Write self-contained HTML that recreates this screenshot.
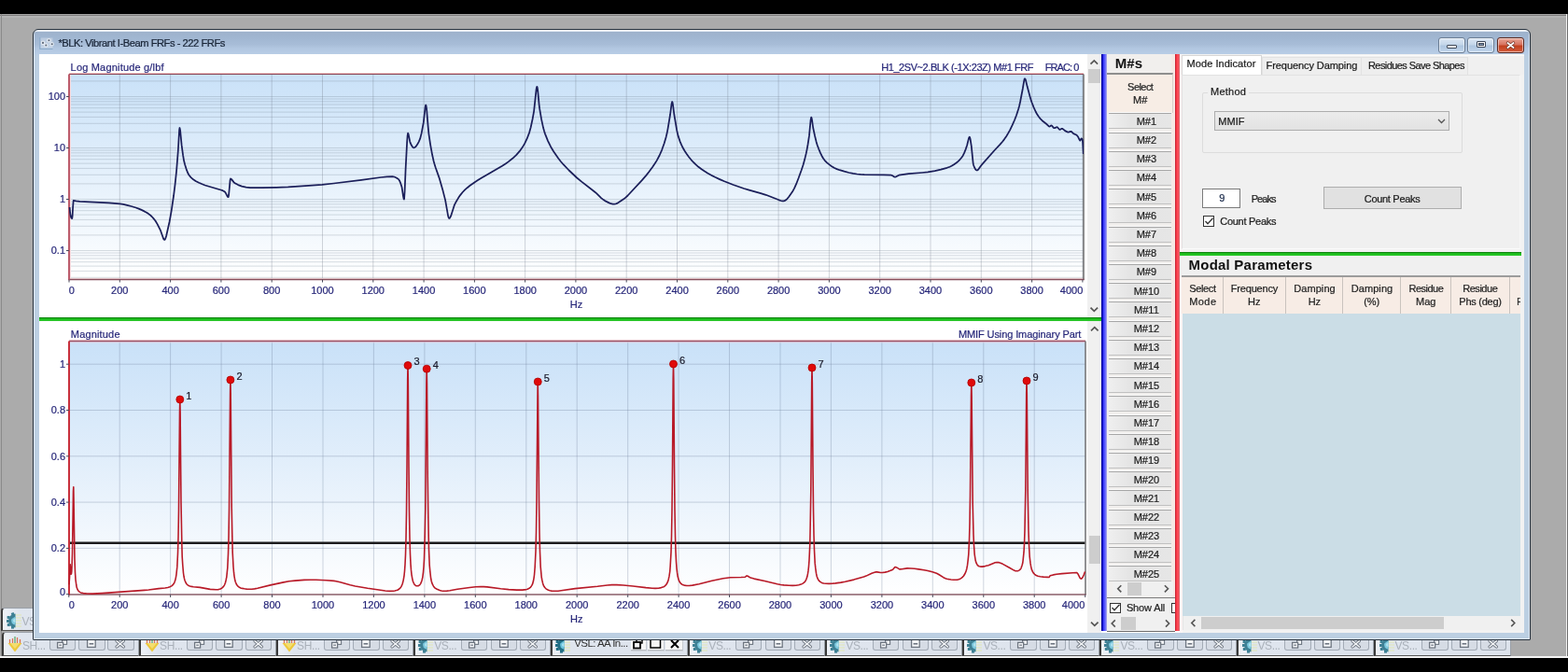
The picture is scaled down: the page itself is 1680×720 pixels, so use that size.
<!DOCTYPE html><html><head><meta charset="utf-8"><title>BLK: Vibrant I-Beam FRFs</title><style>
*{box-sizing:border-box}
html,body{margin:0;padding:0}
body{width:1680px;height:720px;overflow:hidden;position:relative;background:#ababab;font-family:"Liberation Sans", "DejaVu Sans", sans-serif;}
.t{position:absolute;white-space:nowrap;line-height:1;}
.a{position:absolute}
</style></head><body><div style="position:absolute;left:0px;top:0px;width:1680px;height:15px;background:#000"></div><div style="position:absolute;left:0px;top:15px;width:1680px;height:1px;background:#a6a6a6"></div><div style="position:absolute;left:0px;top:16px;width:1680px;height:1px;background:#7e7c7c"></div><div style="position:absolute;left:0px;top:17px;width:1680px;height:2px;background:#b4b4b4"></div><div style="position:absolute;left:1px;top:15px;width:1px;height:689px;background:#8a8a8a"></div><div style="position:absolute;left:1677.5px;top:15px;width:1.2px;height:689px;background:#f2f2f2"></div><div style="position:absolute;left:1678.7px;top:15px;width:1.3px;height:689px;background:#6c6c6c"></div><div style="position:absolute;left:0px;top:703px;width:1680px;height:2px;background:#f4f4f4"></div><div style="position:absolute;left:0px;top:705px;width:1680px;height:15px;background:#000"></div><div class="a" style="left:1px;top:651px;width:147px;height:25px;background:linear-gradient(90deg,#eef2f7,#dfe5ee 12%,#dde3ec);border-left:2px solid #3a3a3a;border-right:1px solid #9aa0a8;border-top:1px solid #9aa0a8;border-radius:4px 4px 0 0;border-bottom:1.3px solid #555"></div><svg class="a" style="left:6.5px;top:656px;opacity:0.85" width="18" height="18" viewBox="0 0 18 18"><g stroke="#e2e8b8" stroke-width="1.3"><line x1="8" y1="3" x2="16" y2="3"/><line x1="8" y1="6" x2="16" y2="6"/><line x1="8" y1="9" x2="16" y2="9"/><line x1="8" y1="12" x2="16" y2="12"/><line x1="8" y1="15" x2="16" y2="15"/></g><path d="M9.5,1.5 L9.5,16.5 A7.5,7.5 0 0 1 9.5,1.5 Z" fill="#216e84"/><g fill="#216e84"><rect x="5.2" y="0.5" width="3" height="3" transform="rotate(-20 6.7 2)"/><rect x="0.6" y="4" width="3" height="3"/><rect x="0" y="8" width="3" height="3"/><rect x="0.8" y="12" width="3" height="3"/><rect x="5" y="14.6" width="3" height="3"/></g><path d="M9.5,4.5 L9.5,13.5 A4.5,4.5 0 0 1 5.4,7.2 Z" fill="#6cc4dc"/><path d="M9.5,6 L9.5,11 A2.5,2.5 0 0 1 7.2,8 Z" fill="#a8e2f0"/></svg><div class="t" style="left:23.5px;top:659.84px;font-size:12px;color:#aab1ba;letter-spacing:-0.4px">VS...</div><div class="a" style="left:52.1px;top:659px;width:28.5px;height:12px;border:1px solid #a3abb6;border-top:none;border-radius:0 0 3px 3px;background:#d6dce5"></div><svg class="a" style="left:52.1px;top:651px" width="29" height="20" viewBox="0 0 29 20"><rect x="13.6" y="9" width="5" height="4.4" fill="#f4f6f8" stroke="#6e7681" stroke-width="1.1"/><rect x="8.6" y="11.4" width="6" height="5.7" fill="#f4f6f8" stroke="#6e7681" stroke-width="1.3"/><line x1="10.2" y1="14.2" x2="13" y2="14.2" stroke="#6e7681" stroke-width="1.2"/></svg><div class="a" style="left:83.8px;top:659px;width:28.5px;height:12px;border:1px solid #a3abb6;border-top:none;border-radius:0 0 3px 3px;background:#d6dce5"></div><svg class="a" style="left:83.8px;top:651px" width="29" height="20" viewBox="0 0 29 20"><rect x="9.6" y="8" width="8.6" height="8.4" fill="#f4f6f8" stroke="#6e7681" stroke-width="1.3"/><line x1="11.6" y1="12.8" x2="16.2" y2="12.8" stroke="#6e7681" stroke-width="1.6"/></svg><div class="a" style="left:114.9px;top:659px;width:28.5px;height:12px;border:1px solid #a3abb6;border-top:none;border-radius:0 0 3px 3px;background:#d6dce5"></div><svg class="a" style="left:114.9px;top:651px" width="29" height="20" viewBox="0 0 29 20"><path d="M10,9.8 L17.4,16 M17.4,9.8 L10,16" stroke="#6e7681" stroke-width="3.2" stroke-linecap="round" fill="none"/><path d="M10,9.8 L17.4,16 M17.4,9.8 L10,16" stroke="#f4f6f8" stroke-width="1.5" stroke-linecap="round" fill="none"/></svg><div class="a" style="left:1.5px;top:677px;width:147px;height:26px;background:linear-gradient(90deg,#eef2f7,#dfe5ee 12%,#dde3ec);border-left:2px solid #3a3a3a;border-right:1px solid #9aa0a8;border-top:1px solid #9aa0a8;border-radius:4px 4px 0 0;border-bottom:1.3px solid #555"></div><svg class="a" style="left:7.5px;top:682px;opacity:0.8" width="16" height="17" viewBox="0 0 16 17"><path d="M0.5,7 L15.5,7 L8,16.5 Z" fill="#f0c010"/><path d="M3,7 L13,7 L8,13 Z" fill="#f8dc50"/><g stroke="#d85a30" stroke-width="1.3"><line x1="2.5" y1="3" x2="2.5" y2="7"/><line x1="5.5" y1="2" x2="5.5" y2="7"/><line x1="10.5" y1="1" x2="10.5" y2="7"/><line x1="13.5" y1="3" x2="13.5" y2="7"/></g><g stroke="#3c9a4a" stroke-width="1.3"><line x1="8" y1="0" x2="8" y2="7"/></g></svg><div class="t" style="left:24.0px;top:685.84px;font-size:12px;color:#aab1ba;letter-spacing:-0.4px">SH...</div><div class="a" style="left:52.6px;top:685px;width:28.5px;height:12px;border:1px solid #a3abb6;border-top:none;border-radius:0 0 3px 3px;background:#d6dce5"></div><svg class="a" style="left:52.6px;top:677px" width="29" height="20" viewBox="0 0 29 20"><rect x="13.6" y="9" width="5" height="4.4" fill="#f4f6f8" stroke="#6e7681" stroke-width="1.1"/><rect x="8.6" y="11.4" width="6" height="5.7" fill="#f4f6f8" stroke="#6e7681" stroke-width="1.3"/><line x1="10.2" y1="14.2" x2="13" y2="14.2" stroke="#6e7681" stroke-width="1.2"/></svg><div class="a" style="left:84.3px;top:685px;width:28.5px;height:12px;border:1px solid #a3abb6;border-top:none;border-radius:0 0 3px 3px;background:#d6dce5"></div><svg class="a" style="left:84.3px;top:677px" width="29" height="20" viewBox="0 0 29 20"><rect x="9.6" y="8" width="8.6" height="8.4" fill="#f4f6f8" stroke="#6e7681" stroke-width="1.3"/><line x1="11.6" y1="12.8" x2="16.2" y2="12.8" stroke="#6e7681" stroke-width="1.6"/></svg><div class="a" style="left:115.4px;top:685px;width:28.5px;height:12px;border:1px solid #a3abb6;border-top:none;border-radius:0 0 3px 3px;background:#d6dce5"></div><svg class="a" style="left:115.4px;top:677px" width="29" height="20" viewBox="0 0 29 20"><path d="M10,9.8 L17.4,16 M17.4,9.8 L10,16" stroke="#6e7681" stroke-width="3.2" stroke-linecap="round" fill="none"/><path d="M10,9.8 L17.4,16 M17.4,9.8 L10,16" stroke="#f4f6f8" stroke-width="1.5" stroke-linecap="round" fill="none"/></svg><div class="a" style="left:148.6px;top:677px;width:147px;height:26px;background:linear-gradient(90deg,#eef2f7,#dfe5ee 12%,#dde3ec);border-left:2px solid #3a3a3a;border-right:1px solid #9aa0a8;border-top:1px solid #9aa0a8;border-radius:4px 4px 0 0;border-bottom:1.3px solid #555"></div><svg class="a" style="left:154.6px;top:682px;opacity:0.8" width="16" height="17" viewBox="0 0 16 17"><path d="M0.5,7 L15.5,7 L8,16.5 Z" fill="#f0c010"/><path d="M3,7 L13,7 L8,13 Z" fill="#f8dc50"/><g stroke="#d85a30" stroke-width="1.3"><line x1="2.5" y1="3" x2="2.5" y2="7"/><line x1="5.5" y1="2" x2="5.5" y2="7"/><line x1="10.5" y1="1" x2="10.5" y2="7"/><line x1="13.5" y1="3" x2="13.5" y2="7"/></g><g stroke="#3c9a4a" stroke-width="1.3"><line x1="8" y1="0" x2="8" y2="7"/></g></svg><div class="t" style="left:171.1px;top:685.84px;font-size:12px;color:#aab1ba;letter-spacing:-0.4px">SH...</div><div class="a" style="left:199.7px;top:685px;width:28.5px;height:12px;border:1px solid #a3abb6;border-top:none;border-radius:0 0 3px 3px;background:#d6dce5"></div><svg class="a" style="left:199.7px;top:677px" width="29" height="20" viewBox="0 0 29 20"><rect x="13.6" y="9" width="5" height="4.4" fill="#f4f6f8" stroke="#6e7681" stroke-width="1.1"/><rect x="8.6" y="11.4" width="6" height="5.7" fill="#f4f6f8" stroke="#6e7681" stroke-width="1.3"/><line x1="10.2" y1="14.2" x2="13" y2="14.2" stroke="#6e7681" stroke-width="1.2"/></svg><div class="a" style="left:231.39999999999998px;top:685px;width:28.5px;height:12px;border:1px solid #a3abb6;border-top:none;border-radius:0 0 3px 3px;background:#d6dce5"></div><svg class="a" style="left:231.39999999999998px;top:677px" width="29" height="20" viewBox="0 0 29 20"><rect x="9.6" y="8" width="8.6" height="8.4" fill="#f4f6f8" stroke="#6e7681" stroke-width="1.3"/><line x1="11.6" y1="12.8" x2="16.2" y2="12.8" stroke="#6e7681" stroke-width="1.6"/></svg><div class="a" style="left:262.5px;top:685px;width:28.5px;height:12px;border:1px solid #a3abb6;border-top:none;border-radius:0 0 3px 3px;background:#d6dce5"></div><svg class="a" style="left:262.5px;top:677px" width="29" height="20" viewBox="0 0 29 20"><path d="M10,9.8 L17.4,16 M17.4,9.8 L10,16" stroke="#6e7681" stroke-width="3.2" stroke-linecap="round" fill="none"/><path d="M10,9.8 L17.4,16 M17.4,9.8 L10,16" stroke="#f4f6f8" stroke-width="1.5" stroke-linecap="round" fill="none"/></svg><div class="a" style="left:295.6px;top:677px;width:147px;height:26px;background:linear-gradient(90deg,#eef2f7,#dfe5ee 12%,#dde3ec);border-left:2px solid #3a3a3a;border-right:1px solid #9aa0a8;border-top:1px solid #9aa0a8;border-radius:4px 4px 0 0;border-bottom:1.3px solid #555"></div><svg class="a" style="left:301.6px;top:682px;opacity:0.8" width="16" height="17" viewBox="0 0 16 17"><path d="M0.5,7 L15.5,7 L8,16.5 Z" fill="#f0c010"/><path d="M3,7 L13,7 L8,13 Z" fill="#f8dc50"/><g stroke="#d85a30" stroke-width="1.3"><line x1="2.5" y1="3" x2="2.5" y2="7"/><line x1="5.5" y1="2" x2="5.5" y2="7"/><line x1="10.5" y1="1" x2="10.5" y2="7"/><line x1="13.5" y1="3" x2="13.5" y2="7"/></g><g stroke="#3c9a4a" stroke-width="1.3"><line x1="8" y1="0" x2="8" y2="7"/></g></svg><div class="t" style="left:318.1px;top:685.84px;font-size:12px;color:#aab1ba;letter-spacing:-0.4px">SH...</div><div class="a" style="left:346.70000000000005px;top:685px;width:28.5px;height:12px;border:1px solid #a3abb6;border-top:none;border-radius:0 0 3px 3px;background:#d6dce5"></div><svg class="a" style="left:346.70000000000005px;top:677px" width="29" height="20" viewBox="0 0 29 20"><rect x="13.6" y="9" width="5" height="4.4" fill="#f4f6f8" stroke="#6e7681" stroke-width="1.1"/><rect x="8.6" y="11.4" width="6" height="5.7" fill="#f4f6f8" stroke="#6e7681" stroke-width="1.3"/><line x1="10.2" y1="14.2" x2="13" y2="14.2" stroke="#6e7681" stroke-width="1.2"/></svg><div class="a" style="left:378.40000000000003px;top:685px;width:28.5px;height:12px;border:1px solid #a3abb6;border-top:none;border-radius:0 0 3px 3px;background:#d6dce5"></div><svg class="a" style="left:378.40000000000003px;top:677px" width="29" height="20" viewBox="0 0 29 20"><rect x="9.6" y="8" width="8.6" height="8.4" fill="#f4f6f8" stroke="#6e7681" stroke-width="1.3"/><line x1="11.6" y1="12.8" x2="16.2" y2="12.8" stroke="#6e7681" stroke-width="1.6"/></svg><div class="a" style="left:409.5px;top:685px;width:28.5px;height:12px;border:1px solid #a3abb6;border-top:none;border-radius:0 0 3px 3px;background:#d6dce5"></div><svg class="a" style="left:409.5px;top:677px" width="29" height="20" viewBox="0 0 29 20"><path d="M10,9.8 L17.4,16 M17.4,9.8 L10,16" stroke="#6e7681" stroke-width="3.2" stroke-linecap="round" fill="none"/><path d="M10,9.8 L17.4,16 M17.4,9.8 L10,16" stroke="#f4f6f8" stroke-width="1.5" stroke-linecap="round" fill="none"/></svg><div class="a" style="left:442.7px;top:677px;width:147px;height:26px;background:linear-gradient(90deg,#eef2f7,#dfe5ee 12%,#dde3ec);border-left:2px solid #3a3a3a;border-right:1px solid #9aa0a8;border-top:1px solid #9aa0a8;border-radius:4px 4px 0 0;border-bottom:1.3px solid #555"></div><svg class="a" style="left:448.2px;top:682px;opacity:0.85" width="18" height="18" viewBox="0 0 18 18"><g stroke="#e2e8b8" stroke-width="1.3"><line x1="8" y1="3" x2="16" y2="3"/><line x1="8" y1="6" x2="16" y2="6"/><line x1="8" y1="9" x2="16" y2="9"/><line x1="8" y1="12" x2="16" y2="12"/><line x1="8" y1="15" x2="16" y2="15"/></g><path d="M9.5,1.5 L9.5,16.5 A7.5,7.5 0 0 1 9.5,1.5 Z" fill="#216e84"/><g fill="#216e84"><rect x="5.2" y="0.5" width="3" height="3" transform="rotate(-20 6.7 2)"/><rect x="0.6" y="4" width="3" height="3"/><rect x="0" y="8" width="3" height="3"/><rect x="0.8" y="12" width="3" height="3"/><rect x="5" y="14.6" width="3" height="3"/></g><path d="M9.5,4.5 L9.5,13.5 A4.5,4.5 0 0 1 5.4,7.2 Z" fill="#6cc4dc"/><path d="M9.5,6 L9.5,11 A2.5,2.5 0 0 1 7.2,8 Z" fill="#a8e2f0"/></svg><div class="t" style="left:465.2px;top:685.84px;font-size:12px;color:#aab1ba;letter-spacing:-0.4px">VS...</div><div class="a" style="left:493.8px;top:685px;width:28.5px;height:12px;border:1px solid #a3abb6;border-top:none;border-radius:0 0 3px 3px;background:#d6dce5"></div><svg class="a" style="left:493.8px;top:677px" width="29" height="20" viewBox="0 0 29 20"><rect x="13.6" y="9" width="5" height="4.4" fill="#f4f6f8" stroke="#6e7681" stroke-width="1.1"/><rect x="8.6" y="11.4" width="6" height="5.7" fill="#f4f6f8" stroke="#6e7681" stroke-width="1.3"/><line x1="10.2" y1="14.2" x2="13" y2="14.2" stroke="#6e7681" stroke-width="1.2"/></svg><div class="a" style="left:525.5px;top:685px;width:28.5px;height:12px;border:1px solid #a3abb6;border-top:none;border-radius:0 0 3px 3px;background:#d6dce5"></div><svg class="a" style="left:525.5px;top:677px" width="29" height="20" viewBox="0 0 29 20"><rect x="9.6" y="8" width="8.6" height="8.4" fill="#f4f6f8" stroke="#6e7681" stroke-width="1.3"/><line x1="11.6" y1="12.8" x2="16.2" y2="12.8" stroke="#6e7681" stroke-width="1.6"/></svg><div class="a" style="left:556.6px;top:685px;width:28.5px;height:12px;border:1px solid #a3abb6;border-top:none;border-radius:0 0 3px 3px;background:#d6dce5"></div><svg class="a" style="left:556.6px;top:677px" width="29" height="20" viewBox="0 0 29 20"><path d="M10,9.8 L17.4,16 M17.4,9.8 L10,16" stroke="#6e7681" stroke-width="3.2" stroke-linecap="round" fill="none"/><path d="M10,9.8 L17.4,16 M17.4,9.8 L10,16" stroke="#f4f6f8" stroke-width="1.5" stroke-linecap="round" fill="none"/></svg><div class="a" style="left:589.7px;top:677px;width:147px;height:26px;background:linear-gradient(90deg,#eef2f7,#dfe5ee 12%,#dde3ec);border-left:2px solid #3a3a3a;border-right:1px solid #9aa0a8;border-top:1px solid #9aa0a8;border-radius:4px 4px 0 0;border-bottom:1.3px solid #555"></div><svg class="a" style="left:595.2px;top:682px;opacity:1" width="18" height="18" viewBox="0 0 18 18"><g stroke="#e2e8b8" stroke-width="1.3"><line x1="8" y1="3" x2="16" y2="3"/><line x1="8" y1="6" x2="16" y2="6"/><line x1="8" y1="9" x2="16" y2="9"/><line x1="8" y1="12" x2="16" y2="12"/><line x1="8" y1="15" x2="16" y2="15"/></g><path d="M9.5,1.5 L9.5,16.5 A7.5,7.5 0 0 1 9.5,1.5 Z" fill="#216e84"/><g fill="#216e84"><rect x="5.2" y="0.5" width="3" height="3" transform="rotate(-20 6.7 2)"/><rect x="0.6" y="4" width="3" height="3"/><rect x="0" y="8" width="3" height="3"/><rect x="0.8" y="12" width="3" height="3"/><rect x="5" y="14.6" width="3" height="3"/></g><path d="M9.5,4.5 L9.5,13.5 A4.5,4.5 0 0 1 5.4,7.2 Z" fill="#6cc4dc"/><path d="M9.5,6 L9.5,11 A2.5,2.5 0 0 1 7.2,8 Z" fill="#a8e2f0"/></svg><div class="t" style="left:615.2px;top:683.77px;font-size:11.5px;color:#333;letter-spacing:-0.55px">VSL: AA In...</div><div class="a" style="left:675.7px;top:684px;width:17.5px;height:13px;background:#f6f6f6;border-bottom:1px solid #b8bcc2;border-right:1px solid #c8ccd2;box-shadow:0 1px 0 #d0d4da"></div><div class="a" style="left:694.4000000000001px;top:684px;width:17.7px;height:13px;background:#f6f6f6;border-bottom:1px solid #b8bcc2;border-right:1px solid #c8ccd2;box-shadow:0 1px 0 #d0d4da"></div><div class="a" style="left:713.4000000000001px;top:684px;width:19px;height:13px;background:#f6f6f6;border-bottom:1px solid #b8bcc2;border-right:1px solid #c8ccd2;box-shadow:0 1px 0 #d0d4da"></div><svg class="a" style="left:678.2px;top:683px" width="45" height="13" viewBox="0 0 45 13"><rect x="4" y="2" width="6" height="4" fill="none" stroke="#000" stroke-width="1.4"/><rect x="1" y="5" width="7" height="6.5" fill="#f6f6f6" stroke="#000" stroke-width="1.8"/><rect x="19" y="0.5" width="10.5" height="10.5" fill="none" stroke="#000" stroke-width="1.5"/></svg><svg class="a" style="left:718.2px;top:684px" width="12" height="12" viewBox="0 0 12 12"><path d="M1,2 L9,10 M9,2 L1,10" stroke="#000" stroke-width="2" fill="none"/></svg><div class="a" style="left:736.8px;top:677px;width:147px;height:26px;background:linear-gradient(90deg,#eef2f7,#dfe5ee 12%,#dde3ec);border-left:2px solid #3a3a3a;border-right:1px solid #9aa0a8;border-top:1px solid #9aa0a8;border-radius:4px 4px 0 0;border-bottom:1.3px solid #555"></div><svg class="a" style="left:742.3px;top:682px;opacity:0.85" width="18" height="18" viewBox="0 0 18 18"><g stroke="#e2e8b8" stroke-width="1.3"><line x1="8" y1="3" x2="16" y2="3"/><line x1="8" y1="6" x2="16" y2="6"/><line x1="8" y1="9" x2="16" y2="9"/><line x1="8" y1="12" x2="16" y2="12"/><line x1="8" y1="15" x2="16" y2="15"/></g><path d="M9.5,1.5 L9.5,16.5 A7.5,7.5 0 0 1 9.5,1.5 Z" fill="#216e84"/><g fill="#216e84"><rect x="5.2" y="0.5" width="3" height="3" transform="rotate(-20 6.7 2)"/><rect x="0.6" y="4" width="3" height="3"/><rect x="0" y="8" width="3" height="3"/><rect x="0.8" y="12" width="3" height="3"/><rect x="5" y="14.6" width="3" height="3"/></g><path d="M9.5,4.5 L9.5,13.5 A4.5,4.5 0 0 1 5.4,7.2 Z" fill="#6cc4dc"/><path d="M9.5,6 L9.5,11 A2.5,2.5 0 0 1 7.2,8 Z" fill="#a8e2f0"/></svg><div class="t" style="left:759.3px;top:685.84px;font-size:12px;color:#aab1ba;letter-spacing:-0.4px">VS...</div><div class="a" style="left:787.9px;top:685px;width:28.5px;height:12px;border:1px solid #a3abb6;border-top:none;border-radius:0 0 3px 3px;background:#d6dce5"></div><svg class="a" style="left:787.9px;top:677px" width="29" height="20" viewBox="0 0 29 20"><rect x="13.6" y="9" width="5" height="4.4" fill="#f4f6f8" stroke="#6e7681" stroke-width="1.1"/><rect x="8.6" y="11.4" width="6" height="5.7" fill="#f4f6f8" stroke="#6e7681" stroke-width="1.3"/><line x1="10.2" y1="14.2" x2="13" y2="14.2" stroke="#6e7681" stroke-width="1.2"/></svg><div class="a" style="left:819.5999999999999px;top:685px;width:28.5px;height:12px;border:1px solid #a3abb6;border-top:none;border-radius:0 0 3px 3px;background:#d6dce5"></div><svg class="a" style="left:819.5999999999999px;top:677px" width="29" height="20" viewBox="0 0 29 20"><rect x="9.6" y="8" width="8.6" height="8.4" fill="#f4f6f8" stroke="#6e7681" stroke-width="1.3"/><line x1="11.6" y1="12.8" x2="16.2" y2="12.8" stroke="#6e7681" stroke-width="1.6"/></svg><div class="a" style="left:850.6999999999999px;top:685px;width:28.5px;height:12px;border:1px solid #a3abb6;border-top:none;border-radius:0 0 3px 3px;background:#d6dce5"></div><svg class="a" style="left:850.6999999999999px;top:677px" width="29" height="20" viewBox="0 0 29 20"><path d="M10,9.8 L17.4,16 M17.4,9.8 L10,16" stroke="#6e7681" stroke-width="3.2" stroke-linecap="round" fill="none"/><path d="M10,9.8 L17.4,16 M17.4,9.8 L10,16" stroke="#f4f6f8" stroke-width="1.5" stroke-linecap="round" fill="none"/></svg><div class="a" style="left:883.8px;top:677px;width:147px;height:26px;background:linear-gradient(90deg,#eef2f7,#dfe5ee 12%,#dde3ec);border-left:2px solid #3a3a3a;border-right:1px solid #9aa0a8;border-top:1px solid #9aa0a8;border-radius:4px 4px 0 0;border-bottom:1.3px solid #555"></div><svg class="a" style="left:889.3px;top:682px;opacity:0.85" width="18" height="18" viewBox="0 0 18 18"><g stroke="#e2e8b8" stroke-width="1.3"><line x1="8" y1="3" x2="16" y2="3"/><line x1="8" y1="6" x2="16" y2="6"/><line x1="8" y1="9" x2="16" y2="9"/><line x1="8" y1="12" x2="16" y2="12"/><line x1="8" y1="15" x2="16" y2="15"/></g><path d="M9.5,1.5 L9.5,16.5 A7.5,7.5 0 0 1 9.5,1.5 Z" fill="#216e84"/><g fill="#216e84"><rect x="5.2" y="0.5" width="3" height="3" transform="rotate(-20 6.7 2)"/><rect x="0.6" y="4" width="3" height="3"/><rect x="0" y="8" width="3" height="3"/><rect x="0.8" y="12" width="3" height="3"/><rect x="5" y="14.6" width="3" height="3"/></g><path d="M9.5,4.5 L9.5,13.5 A4.5,4.5 0 0 1 5.4,7.2 Z" fill="#6cc4dc"/><path d="M9.5,6 L9.5,11 A2.5,2.5 0 0 1 7.2,8 Z" fill="#a8e2f0"/></svg><div class="t" style="left:906.3px;top:685.84px;font-size:12px;color:#aab1ba;letter-spacing:-0.4px">VS...</div><div class="a" style="left:934.9px;top:685px;width:28.5px;height:12px;border:1px solid #a3abb6;border-top:none;border-radius:0 0 3px 3px;background:#d6dce5"></div><svg class="a" style="left:934.9px;top:677px" width="29" height="20" viewBox="0 0 29 20"><rect x="13.6" y="9" width="5" height="4.4" fill="#f4f6f8" stroke="#6e7681" stroke-width="1.1"/><rect x="8.6" y="11.4" width="6" height="5.7" fill="#f4f6f8" stroke="#6e7681" stroke-width="1.3"/><line x1="10.2" y1="14.2" x2="13" y2="14.2" stroke="#6e7681" stroke-width="1.2"/></svg><div class="a" style="left:966.5999999999999px;top:685px;width:28.5px;height:12px;border:1px solid #a3abb6;border-top:none;border-radius:0 0 3px 3px;background:#d6dce5"></div><svg class="a" style="left:966.5999999999999px;top:677px" width="29" height="20" viewBox="0 0 29 20"><rect x="9.6" y="8" width="8.6" height="8.4" fill="#f4f6f8" stroke="#6e7681" stroke-width="1.3"/><line x1="11.6" y1="12.8" x2="16.2" y2="12.8" stroke="#6e7681" stroke-width="1.6"/></svg><div class="a" style="left:997.6999999999999px;top:685px;width:28.5px;height:12px;border:1px solid #a3abb6;border-top:none;border-radius:0 0 3px 3px;background:#d6dce5"></div><svg class="a" style="left:997.6999999999999px;top:677px" width="29" height="20" viewBox="0 0 29 20"><path d="M10,9.8 L17.4,16 M17.4,9.8 L10,16" stroke="#6e7681" stroke-width="3.2" stroke-linecap="round" fill="none"/><path d="M10,9.8 L17.4,16 M17.4,9.8 L10,16" stroke="#f4f6f8" stroke-width="1.5" stroke-linecap="round" fill="none"/></svg><div class="a" style="left:1030.9px;top:677px;width:147px;height:26px;background:linear-gradient(90deg,#eef2f7,#dfe5ee 12%,#dde3ec);border-left:2px solid #3a3a3a;border-right:1px solid #9aa0a8;border-top:1px solid #9aa0a8;border-radius:4px 4px 0 0;border-bottom:1.3px solid #555"></div><svg class="a" style="left:1036.4px;top:682px;opacity:0.85" width="18" height="18" viewBox="0 0 18 18"><g stroke="#e2e8b8" stroke-width="1.3"><line x1="8" y1="3" x2="16" y2="3"/><line x1="8" y1="6" x2="16" y2="6"/><line x1="8" y1="9" x2="16" y2="9"/><line x1="8" y1="12" x2="16" y2="12"/><line x1="8" y1="15" x2="16" y2="15"/></g><path d="M9.5,1.5 L9.5,16.5 A7.5,7.5 0 0 1 9.5,1.5 Z" fill="#216e84"/><g fill="#216e84"><rect x="5.2" y="0.5" width="3" height="3" transform="rotate(-20 6.7 2)"/><rect x="0.6" y="4" width="3" height="3"/><rect x="0" y="8" width="3" height="3"/><rect x="0.8" y="12" width="3" height="3"/><rect x="5" y="14.6" width="3" height="3"/></g><path d="M9.5,4.5 L9.5,13.5 A4.5,4.5 0 0 1 5.4,7.2 Z" fill="#6cc4dc"/><path d="M9.5,6 L9.5,11 A2.5,2.5 0 0 1 7.2,8 Z" fill="#a8e2f0"/></svg><div class="t" style="left:1053.4px;top:685.84px;font-size:12px;color:#aab1ba;letter-spacing:-0.4px">VS...</div><div class="a" style="left:1082.0px;top:685px;width:28.5px;height:12px;border:1px solid #a3abb6;border-top:none;border-radius:0 0 3px 3px;background:#d6dce5"></div><svg class="a" style="left:1082.0px;top:677px" width="29" height="20" viewBox="0 0 29 20"><rect x="13.6" y="9" width="5" height="4.4" fill="#f4f6f8" stroke="#6e7681" stroke-width="1.1"/><rect x="8.6" y="11.4" width="6" height="5.7" fill="#f4f6f8" stroke="#6e7681" stroke-width="1.3"/><line x1="10.2" y1="14.2" x2="13" y2="14.2" stroke="#6e7681" stroke-width="1.2"/></svg><div class="a" style="left:1113.7px;top:685px;width:28.5px;height:12px;border:1px solid #a3abb6;border-top:none;border-radius:0 0 3px 3px;background:#d6dce5"></div><svg class="a" style="left:1113.7px;top:677px" width="29" height="20" viewBox="0 0 29 20"><rect x="9.6" y="8" width="8.6" height="8.4" fill="#f4f6f8" stroke="#6e7681" stroke-width="1.3"/><line x1="11.6" y1="12.8" x2="16.2" y2="12.8" stroke="#6e7681" stroke-width="1.6"/></svg><div class="a" style="left:1144.8000000000002px;top:685px;width:28.5px;height:12px;border:1px solid #a3abb6;border-top:none;border-radius:0 0 3px 3px;background:#d6dce5"></div><svg class="a" style="left:1144.8000000000002px;top:677px" width="29" height="20" viewBox="0 0 29 20"><path d="M10,9.8 L17.4,16 M17.4,9.8 L10,16" stroke="#6e7681" stroke-width="3.2" stroke-linecap="round" fill="none"/><path d="M10,9.8 L17.4,16 M17.4,9.8 L10,16" stroke="#f4f6f8" stroke-width="1.5" stroke-linecap="round" fill="none"/></svg><div class="a" style="left:1177.9px;top:677px;width:147px;height:26px;background:linear-gradient(90deg,#eef2f7,#dfe5ee 12%,#dde3ec);border-left:2px solid #3a3a3a;border-right:1px solid #9aa0a8;border-top:1px solid #9aa0a8;border-radius:4px 4px 0 0;border-bottom:1.3px solid #555"></div><svg class="a" style="left:1183.4px;top:682px;opacity:0.85" width="18" height="18" viewBox="0 0 18 18"><g stroke="#e2e8b8" stroke-width="1.3"><line x1="8" y1="3" x2="16" y2="3"/><line x1="8" y1="6" x2="16" y2="6"/><line x1="8" y1="9" x2="16" y2="9"/><line x1="8" y1="12" x2="16" y2="12"/><line x1="8" y1="15" x2="16" y2="15"/></g><path d="M9.5,1.5 L9.5,16.5 A7.5,7.5 0 0 1 9.5,1.5 Z" fill="#216e84"/><g fill="#216e84"><rect x="5.2" y="0.5" width="3" height="3" transform="rotate(-20 6.7 2)"/><rect x="0.6" y="4" width="3" height="3"/><rect x="0" y="8" width="3" height="3"/><rect x="0.8" y="12" width="3" height="3"/><rect x="5" y="14.6" width="3" height="3"/></g><path d="M9.5,4.5 L9.5,13.5 A4.5,4.5 0 0 1 5.4,7.2 Z" fill="#6cc4dc"/><path d="M9.5,6 L9.5,11 A2.5,2.5 0 0 1 7.2,8 Z" fill="#a8e2f0"/></svg><div class="t" style="left:1200.4px;top:685.84px;font-size:12px;color:#aab1ba;letter-spacing:-0.4px">VS...</div><div class="a" style="left:1229.0px;top:685px;width:28.5px;height:12px;border:1px solid #a3abb6;border-top:none;border-radius:0 0 3px 3px;background:#d6dce5"></div><svg class="a" style="left:1229.0px;top:677px" width="29" height="20" viewBox="0 0 29 20"><rect x="13.6" y="9" width="5" height="4.4" fill="#f4f6f8" stroke="#6e7681" stroke-width="1.1"/><rect x="8.6" y="11.4" width="6" height="5.7" fill="#f4f6f8" stroke="#6e7681" stroke-width="1.3"/><line x1="10.2" y1="14.2" x2="13" y2="14.2" stroke="#6e7681" stroke-width="1.2"/></svg><div class="a" style="left:1260.7px;top:685px;width:28.5px;height:12px;border:1px solid #a3abb6;border-top:none;border-radius:0 0 3px 3px;background:#d6dce5"></div><svg class="a" style="left:1260.7px;top:677px" width="29" height="20" viewBox="0 0 29 20"><rect x="9.6" y="8" width="8.6" height="8.4" fill="#f4f6f8" stroke="#6e7681" stroke-width="1.3"/><line x1="11.6" y1="12.8" x2="16.2" y2="12.8" stroke="#6e7681" stroke-width="1.6"/></svg><div class="a" style="left:1291.8000000000002px;top:685px;width:28.5px;height:12px;border:1px solid #a3abb6;border-top:none;border-radius:0 0 3px 3px;background:#d6dce5"></div><svg class="a" style="left:1291.8000000000002px;top:677px" width="29" height="20" viewBox="0 0 29 20"><path d="M10,9.8 L17.4,16 M17.4,9.8 L10,16" stroke="#6e7681" stroke-width="3.2" stroke-linecap="round" fill="none"/><path d="M10,9.8 L17.4,16 M17.4,9.8 L10,16" stroke="#f4f6f8" stroke-width="1.5" stroke-linecap="round" fill="none"/></svg><div class="a" style="left:1325.0px;top:677px;width:147px;height:26px;background:linear-gradient(90deg,#eef2f7,#dfe5ee 12%,#dde3ec);border-left:2px solid #3a3a3a;border-right:1px solid #9aa0a8;border-top:1px solid #9aa0a8;border-radius:4px 4px 0 0;border-bottom:1.3px solid #555"></div><svg class="a" style="left:1330.5px;top:682px;opacity:0.85" width="18" height="18" viewBox="0 0 18 18"><g stroke="#e2e8b8" stroke-width="1.3"><line x1="8" y1="3" x2="16" y2="3"/><line x1="8" y1="6" x2="16" y2="6"/><line x1="8" y1="9" x2="16" y2="9"/><line x1="8" y1="12" x2="16" y2="12"/><line x1="8" y1="15" x2="16" y2="15"/></g><path d="M9.5,1.5 L9.5,16.5 A7.5,7.5 0 0 1 9.5,1.5 Z" fill="#216e84"/><g fill="#216e84"><rect x="5.2" y="0.5" width="3" height="3" transform="rotate(-20 6.7 2)"/><rect x="0.6" y="4" width="3" height="3"/><rect x="0" y="8" width="3" height="3"/><rect x="0.8" y="12" width="3" height="3"/><rect x="5" y="14.6" width="3" height="3"/></g><path d="M9.5,4.5 L9.5,13.5 A4.5,4.5 0 0 1 5.4,7.2 Z" fill="#6cc4dc"/><path d="M9.5,6 L9.5,11 A2.5,2.5 0 0 1 7.2,8 Z" fill="#a8e2f0"/></svg><div class="t" style="left:1347.5px;top:685.84px;font-size:12px;color:#aab1ba;letter-spacing:-0.4px">VS...</div><div class="a" style="left:1376.1px;top:685px;width:28.5px;height:12px;border:1px solid #a3abb6;border-top:none;border-radius:0 0 3px 3px;background:#d6dce5"></div><svg class="a" style="left:1376.1px;top:677px" width="29" height="20" viewBox="0 0 29 20"><rect x="13.6" y="9" width="5" height="4.4" fill="#f4f6f8" stroke="#6e7681" stroke-width="1.1"/><rect x="8.6" y="11.4" width="6" height="5.7" fill="#f4f6f8" stroke="#6e7681" stroke-width="1.3"/><line x1="10.2" y1="14.2" x2="13" y2="14.2" stroke="#6e7681" stroke-width="1.2"/></svg><div class="a" style="left:1407.8px;top:685px;width:28.5px;height:12px;border:1px solid #a3abb6;border-top:none;border-radius:0 0 3px 3px;background:#d6dce5"></div><svg class="a" style="left:1407.8px;top:677px" width="29" height="20" viewBox="0 0 29 20"><rect x="9.6" y="8" width="8.6" height="8.4" fill="#f4f6f8" stroke="#6e7681" stroke-width="1.3"/><line x1="11.6" y1="12.8" x2="16.2" y2="12.8" stroke="#6e7681" stroke-width="1.6"/></svg><div class="a" style="left:1438.9px;top:685px;width:28.5px;height:12px;border:1px solid #a3abb6;border-top:none;border-radius:0 0 3px 3px;background:#d6dce5"></div><svg class="a" style="left:1438.9px;top:677px" width="29" height="20" viewBox="0 0 29 20"><path d="M10,9.8 L17.4,16 M17.4,9.8 L10,16" stroke="#6e7681" stroke-width="3.2" stroke-linecap="round" fill="none"/><path d="M10,9.8 L17.4,16 M17.4,9.8 L10,16" stroke="#f4f6f8" stroke-width="1.5" stroke-linecap="round" fill="none"/></svg><div class="a" style="left:1472.0px;top:677px;width:147px;height:26px;background:linear-gradient(90deg,#eef2f7,#dfe5ee 12%,#dde3ec);border-left:2px solid #3a3a3a;border-right:1px solid #9aa0a8;border-top:1px solid #9aa0a8;border-radius:4px 4px 0 0;border-bottom:1.3px solid #555"></div><svg class="a" style="left:1477.5px;top:682px;opacity:0.85" width="18" height="18" viewBox="0 0 18 18"><g stroke="#e2e8b8" stroke-width="1.3"><line x1="8" y1="3" x2="16" y2="3"/><line x1="8" y1="6" x2="16" y2="6"/><line x1="8" y1="9" x2="16" y2="9"/><line x1="8" y1="12" x2="16" y2="12"/><line x1="8" y1="15" x2="16" y2="15"/></g><path d="M9.5,1.5 L9.5,16.5 A7.5,7.5 0 0 1 9.5,1.5 Z" fill="#216e84"/><g fill="#216e84"><rect x="5.2" y="0.5" width="3" height="3" transform="rotate(-20 6.7 2)"/><rect x="0.6" y="4" width="3" height="3"/><rect x="0" y="8" width="3" height="3"/><rect x="0.8" y="12" width="3" height="3"/><rect x="5" y="14.6" width="3" height="3"/></g><path d="M9.5,4.5 L9.5,13.5 A4.5,4.5 0 0 1 5.4,7.2 Z" fill="#6cc4dc"/><path d="M9.5,6 L9.5,11 A2.5,2.5 0 0 1 7.2,8 Z" fill="#a8e2f0"/></svg><div class="t" style="left:1494.5px;top:685.84px;font-size:12px;color:#aab1ba;letter-spacing:-0.4px">VS...</div><div class="a" style="left:1523.1px;top:685px;width:28.5px;height:12px;border:1px solid #a3abb6;border-top:none;border-radius:0 0 3px 3px;background:#d6dce5"></div><svg class="a" style="left:1523.1px;top:677px" width="29" height="20" viewBox="0 0 29 20"><rect x="13.6" y="9" width="5" height="4.4" fill="#f4f6f8" stroke="#6e7681" stroke-width="1.1"/><rect x="8.6" y="11.4" width="6" height="5.7" fill="#f4f6f8" stroke="#6e7681" stroke-width="1.3"/><line x1="10.2" y1="14.2" x2="13" y2="14.2" stroke="#6e7681" stroke-width="1.2"/></svg><div class="a" style="left:1554.8px;top:685px;width:28.5px;height:12px;border:1px solid #a3abb6;border-top:none;border-radius:0 0 3px 3px;background:#d6dce5"></div><svg class="a" style="left:1554.8px;top:677px" width="29" height="20" viewBox="0 0 29 20"><rect x="9.6" y="8" width="8.6" height="8.4" fill="#f4f6f8" stroke="#6e7681" stroke-width="1.3"/><line x1="11.6" y1="12.8" x2="16.2" y2="12.8" stroke="#6e7681" stroke-width="1.6"/></svg><div class="a" style="left:1585.9px;top:685px;width:28.5px;height:12px;border:1px solid #a3abb6;border-top:none;border-radius:0 0 3px 3px;background:#d6dce5"></div><svg class="a" style="left:1585.9px;top:677px" width="29" height="20" viewBox="0 0 29 20"><path d="M10,9.8 L17.4,16 M17.4,9.8 L10,16" stroke="#6e7681" stroke-width="3.2" stroke-linecap="round" fill="none"/><path d="M10,9.8 L17.4,16 M17.4,9.8 L10,16" stroke="#f4f6f8" stroke-width="1.5" stroke-linecap="round" fill="none"/></svg><div class="a" style="left:35px;top:31px;width:1605px;height:655px;border:1px solid #27323e;border-radius:6px 6px 1px 1px;background:linear-gradient(#e6eef8 0px,#e6eef8 1.5px,#9eb2cc 2.5px,#a1b7d2 9px,#a8bdd8 16px,#b2c7e1 20px,#b8cde6 26px,#bccfe2 28px,#bccfe2 100%);box-shadow:inset 0 0 0 1px rgba(255,255,255,0.55)"></div><svg class="a" style="left:40px;top:38px" width="20" height="17" viewBox="40 38 20 17"><rect x="43" y="40.5" width="13.5" height="11.5" fill="rgba(255,255,255,0.28)"/><path d="M42.8,40 L42.8,52.3 L56.5,52.3" fill="none" stroke="#8eaccb" stroke-width="1.2"/><g fill="rgba(255,255,255,0.55)"><circle cx="46" cy="45.9" r="2.3"/><circle cx="49.3" cy="48.5" r="2.3"/><circle cx="52.4" cy="43.2" r="2.3"/><circle cx="55.7" cy="47.3" r="2.3"/></g><g fill="#5e6878"><circle cx="46" cy="45.9" r="1.05"/><circle cx="49.3" cy="48.5" r="1.05"/><circle cx="52.4" cy="43.2" r="1.05"/><circle cx="55.7" cy="47.3" r="1.05"/></g></svg><div class="a" style="left:1541px;top:40px;width:29px;height:17px;border:1px solid #6b7d94;border-radius:3px;background:linear-gradient(#dde8f4 0%,#c4d6ea 45%,#aec6e0 55%,#c2d6ec 100%);box-shadow:inset 0 0 0 1px rgba(255,255,255,0.5)"></div><div class="a" style="left:1550px;top:47.5px;width:11px;height:4.5px;background:#fff;border:1px solid #3e4858;border-radius:1px"></div><div class="a" style="left:1572px;top:40px;width:29px;height:17px;border:1px solid #6b7d94;border-radius:3px;background:linear-gradient(#dde8f4 0%,#c4d6ea 45%,#aec6e0 55%,#c2d6ec 100%);box-shadow:inset 0 0 0 1px rgba(255,255,255,0.5)"></div><div class="a" style="left:1581.5px;top:44.2px;width:10.5px;height:7.3px;border:1px solid #3e4858;background:#fff;border-radius:1px"></div><div class="a" style="left:1584px;top:46.4px;width:5.5px;height:3px;border:1px solid #3e4858;background:#7d93ae"></div><div class="a" style="left:1604px;top:40px;width:29px;height:17px;border:1px solid #5b2a22;border-radius:3px;background:linear-gradient(#e9a99a 0%,#d7725f 45%,#c2401f 55%,#d55d3d 100%);box-shadow:inset 0 0 0 1px rgba(255,255,255,0.5)"></div><svg class="a" style="left:1612px;top:43px" width="13" height="11" viewBox="0 0 13 11"><path d="M3.4,3 L9.6,8 M9.6,3 L3.4,8" stroke="#6a2a1e" stroke-width="3.2" stroke-linecap="round"/><path d="M3.4,3 L9.6,8 M9.6,3 L3.4,8" stroke="#fff" stroke-width="1.9" stroke-linecap="round"/></svg><div style="position:absolute;left:42px;top:58px;width:1591px;height:620px;background:#fff"></div><svg class="a" style="left:0;top:0" width="1680" height="720" viewBox="0 0 1680 720" font-family="Liberation Sans, DejaVu Sans, sans-serif"><defs><linearGradient id="pg" x1="0" y1="0" x2="0" y2="1"><stop offset="0" stop-color="#c9e1f8"/><stop offset="0.45" stop-color="#e2effb"/><stop offset="1" stop-color="#ffffff"/></linearGradient><linearGradient id="pg2" x1="0" y1="0" x2="0" y2="1"><stop offset="0" stop-color="#c9e1f8"/><stop offset="0.5" stop-color="#e3effb"/><stop offset="1" stop-color="#ffffff"/></linearGradient><clipPath id="c1"><rect x="73" y="79.5" width="1088" height="220"/></clipPath><clipPath id="c2"><rect x="73" y="365.5" width="1090" height="272"/></clipPath></defs><rect x="74" y="79.5" width="1087" height="220.0" fill="url(#pg)"/><path d="M74,297.3H1161M74,290.4H1161M74,285.1H1161M74,280.7H1161M74,277.0H1161M74,273.8H1161M74,271.0H1161M74,268.5H1161M74,251.9H1161M74,242.3H1161M74,235.4H1161M74,230.1H1161M74,225.7H1161M74,222.0H1161M74,218.8H1161M74,216.0H1161M74,213.5H1161M74,196.9H1161M74,187.3H1161M74,180.4H1161M74,175.1H1161M74,170.7H1161M74,167.0H1161M74,163.8H1161M74,161.0H1161M74,158.5H1161M74,141.9H1161M74,132.3H1161M74,125.4H1161M74,120.1H1161M74,115.7H1161M74,112.0H1161M74,108.8H1161M74,106.0H1161M74,103.5H1161M74,86.9H1161" stroke="rgba(110,122,140,0.26)" stroke-width="1" fill="none"/><path d="M128.3,79.5V299.5M182.6,79.5V299.5M236.9,79.5V299.5M291.2,79.5V299.5M345.5,79.5V299.5M399.8,79.5V299.5M454.1,79.5V299.5M508.4,79.5V299.5M562.6,79.5V299.5M616.9,79.5V299.5M671.2,79.5V299.5M725.5,79.5V299.5M779.8,79.5V299.5M834.1,79.5V299.5M888.4,79.5V299.5M942.7,79.5V299.5M997.0,79.5V299.5M1051.3,79.5V299.5M1105.6,79.5V299.5M1159.9,79.5V299.5" stroke="rgba(95,102,118,0.27)" stroke-width="1" fill="none"/><line x1="74" y1="78.5" x2="1161" y2="78.5" stroke="#f2c2c4" stroke-width="1"/><line x1="75" y1="298.5" x2="1161" y2="298.5" stroke="#f8e0e2" stroke-width="1"/><line x1="75.5" y1="79.5" x2="75.5" y2="299.5" stroke="#f8dce0" stroke-width="1"/><line x1="74" y1="79.5" x2="1161" y2="79.5" stroke="#8a4656" stroke-width="1.2"/><line x1="1161" y1="79.5" x2="1161" y2="299.5" stroke="#707072" stroke-width="1.6"/><line x1="74" y1="299.5" x2="1161.8" y2="299.5" stroke="#88505e" stroke-width="1.3"/><line x1="74" y1="79.5" x2="74" y2="300.3" stroke="#bc5c6c" stroke-width="2"/><path d="M74.6,222.0 L75.1,227.5 L75.6,231.0 L76.1,232.9 L76.6,233.8 L77.3,234.0 L77.6,231.7 L78.1,222.4 L78.7,214.8 L81.5,215.4 L85.6,215.8 L116.6,217.3 L128.6,218.3 L132.1,218.9 L136.1,219.8 L140.6,221.0 L145.6,222.5 L148.6,223.6 L151.6,224.9 L154.6,226.4 L157.1,227.8 L159.1,229.1 L160.6,230.2 L162.6,232.0 L164.1,233.6 L166.6,236.7 L168.6,240.1 L172.1,247.2 L175.1,255.7 L175.6,256.5 L176.1,257.0 L176.6,256.8 L177.1,256.1 L178.1,253.0 L181.6,237.5 L183.6,226.3 L186.1,209.5 L187.6,197.4 L189.1,183.0 L190.8,161.7 L192.1,139.5 L192.5,137.0 L193.1,139.7 L194.6,155.4 L196.1,166.4 L197.1,172.3 L198.1,176.2 L199.6,181.1 L201.1,185.0 L202.6,187.8 L204.6,190.1 L207.1,192.3 L209.6,194.0 L213.1,195.8 L216.6,197.3 L219.6,198.5 L236.6,203.5 L238.6,204.2 L240.1,205.0 L241.1,205.7 L241.6,206.4 L243.6,210.4 L244.1,211.0 L244.6,211.2 L245.1,209.0 L246.6,193.0 L247.0,191.5 L247.6,191.7 L248.1,192.1 L250.6,195.4 L251.2,196.0 L255.1,198.1 L259.1,199.6 L263.6,200.6 L268.1,201.2 L280.6,201.2 L296.1,200.9 L308.6,200.4 L323.6,199.4 L345.1,197.8 L357.6,196.5 L387.1,192.9 L408.1,190.0 L414.6,189.4 L420.4,189.2 L421.6,189.3 L422.6,189.5 L425.1,190.7 L427.1,192.1 L428.1,193.7 L429.1,196.1 L430.6,200.8 L432.1,210.8 L432.6,213.1 L432.9,213.5 L433.1,212.7 L433.6,205.5 L434.6,181.1 L436.1,152.6 L436.6,145.5 L437.1,142.7 L437.6,143.6 L439.1,151.2 L439.6,153.0 L441.1,156.1 L442.1,157.6 L442.6,158.0 L443.1,158.3 L444.1,158.1 L444.6,157.8 L445.6,156.9 L447.1,154.8 L448.6,152.1 L450.1,148.7 L451.6,142.9 L453.8,131.2 L455.6,114.9 L456.1,112.6 L456.2,112.5 L456.6,113.3 L457.1,116.8 L458.6,135.1 L459.4,143.3 L461.1,154.8 L463.1,165.8 L464.6,172.5 L465.6,176.1 L466.6,179.3 L470.6,190.6 L474.6,204.6 L477.1,214.4 L480.1,231.3 L480.6,233.1 L481.1,233.9 L481.2,234.0 L481.6,233.9 L482.1,233.4 L483.1,231.4 L486.6,220.4 L487.5,218.3 L488.6,216.3 L491.1,212.1 L493.1,209.1 L495.6,206.0 L498.1,203.4 L500.6,201.2 L503.6,198.8 L511.6,193.2 L516.1,190.4 L526.1,184.7 L538.1,177.7 L541.6,175.5 L544.6,173.4 L549.1,169.8 L553.1,166.1 L556.6,162.2 L559.6,158.1 L562.1,153.9 L564.6,148.7 L567.1,142.1 L568.6,136.7 L570.6,127.5 L572.1,119.1 L574.6,95.7 L575.1,93.3 L575.4,92.9 L575.6,93.2 L576.1,95.9 L577.6,112.0 L578.1,116.2 L580.1,127.9 L582.1,137.1 L583.1,140.6 L584.1,143.6 L587.1,151.1 L590.1,157.2 L593.1,162.2 L598.1,169.5 L600.6,172.7 L603.6,176.2 L609.6,182.5 L618.1,190.5 L623.1,194.6 L637.1,205.5 L639.1,207.2 L644.1,212.1 L646.6,214.1 L648.1,215.1 L652.6,217.4 L654.6,218.2 L656.6,218.7 L658.1,218.7 L659.6,218.5 L661.1,217.9 L662.6,217.1 L668.6,213.1 L670.6,211.4 L672.6,209.5 L687.6,193.3 L692.6,187.6 L695.6,183.8 L699.1,179.0 L701.6,175.3 L703.6,172.1 L706.6,166.5 L709.1,160.8 L711.6,153.8 L713.6,146.9 L714.6,142.8 L715.6,137.6 L718.1,122.5 L719.6,110.9 L720.2,109.0 L720.6,109.9 L721.1,113.0 L722.3,122.5 L725.1,139.2 L726.5,145.4 L728.6,151.6 L730.1,155.2 L731.6,158.3 L733.6,161.8 L735.6,164.8 L738.1,168.3 L740.6,171.3 L743.1,174.0 L745.6,176.4 L748.3,178.8 L751.6,181.3 L754.6,183.3 L758.1,185.5 L762.1,187.7 L766.1,189.8 L771.1,192.1 L776.1,194.3 L785.6,198.0 L797.1,202.0 L802.6,203.6 L815.1,207.1 L820.6,208.8 L834.6,214.3 L836.6,215.0 L838.1,215.3 L839.6,215.4 L840.6,215.2 L841.6,214.6 L842.6,213.8 L843.6,212.8 L845.1,211.0 L849.1,205.3 L851.1,201.7 L853.1,197.2 L855.6,190.8 L858.6,182.5 L860.6,176.4 L862.1,171.1 L863.6,164.9 L864.6,160.1 L865.6,154.5 L867.0,145.4 L868.6,128.4 L869.2,125.6 L869.6,126.4 L870.1,129.2 L871.2,137.0 L873.1,145.7 L874.6,151.9 L875.6,155.2 L877.1,159.3 L879.1,164.1 L880.6,167.2 L882.1,169.8 L883.6,171.8 L886.1,174.3 L888.6,176.4 L891.1,178.2 L894.1,180.0 L896.6,181.1 L899.6,182.2 L904.6,183.7 L909.6,185.0 L914.1,185.9 L918.1,186.5 L922.1,186.9 L926.1,187.1 L946.6,187.4 L955.0,187.7 L956.1,188.1 L958.1,189.5 L958.8,189.6 L960.1,189.3 L962.1,188.2 L963.1,187.7 L966.6,187.1 L973.6,186.2 L988.1,185.0 L994.1,184.4 L1001.6,183.1 L1008.1,181.7 L1014.6,179.8 L1017.6,178.7 L1019.6,177.8 L1022.1,176.3 L1024.6,174.5 L1026.6,172.8 L1028.6,170.8 L1030.1,169.0 L1031.6,166.9 L1033.1,163.9 L1034.6,160.1 L1036.1,155.7 L1038.1,147.7 L1038.6,146.8 L1038.8,146.7 L1039.1,147.1 L1039.6,149.0 L1040.8,156.7 L1042.6,174.6 L1043.0,176.7 L1044.1,179.5 L1045.1,181.3 L1046.1,182.3 L1046.6,182.5 L1047.1,182.4 L1047.6,182.2 L1048.6,181.1 L1051.1,177.5 L1053.1,175.1 L1065.6,161.0 L1071.6,154.6 L1074.1,151.7 L1076.1,149.1 L1078.1,146.2 L1080.1,142.9 L1082.1,139.3 L1084.6,134.2 L1087.1,128.5 L1089.1,123.3 L1091.1,117.1 L1092.1,113.5 L1093.1,109.0 L1095.8,95.0 L1097.1,87.1 L1097.6,84.8 L1098.0,84.2 L1098.6,84.9 L1099.1,86.4 L1100.6,92.6 L1103.6,103.7 L1104.6,107.1 L1105.6,110.0 L1107.6,115.1 L1109.6,119.5 L1111.1,122.3 L1113.1,125.3 L1114.6,127.1 L1116.6,129.2 L1121.7,133.3 L1123.6,135.2 L1124.1,135.5 L1124.6,135.6 L1125.1,135.3 L1126.1,134.5 L1126.6,134.4 L1127.1,134.7 L1128.6,136.6 L1129.1,137.1 L1129.5,137.2 L1130.1,137.1 L1132.1,136.2 L1132.6,136.2 L1133.1,136.5 L1135.1,138.8 L1135.6,138.9 L1137.6,137.8 L1138.1,137.8 L1139.1,138.4 L1141.1,140.1 L1143.6,141.4 L1144.6,141.6 L1147.1,140.9 L1147.6,140.9 L1148.1,141.1 L1150.1,143.1 L1152.6,144.2 L1153.6,144.8 L1155.2,146.8 L1156.6,149.8 L1157.1,150.5 L1157.3,150.6 L1157.6,150.3 L1158.1,149.1 L1158.6,148.4 L1159.1,148.6 L1159.7,149.4 L1160.1,152.4 L1160.8,165.0" stroke="#1b1f5a" stroke-width="1.75" fill="none" stroke-linejoin="round" clip-path="url(#c1)"/><path d="M71,103.5H74M71,158.5H74M71,213.5H74M71,268.5H74M74.0,299.5V302.5M128.3,299.5V302.5M182.6,299.5V302.5M236.9,299.5V302.5M291.2,299.5V302.5M345.5,299.5V302.5M399.8,299.5V302.5M454.1,299.5V302.5M508.4,299.5V302.5M562.6,299.5V302.5M616.9,299.5V302.5M671.2,299.5V302.5M725.5,299.5V302.5M779.8,299.5V302.5M834.1,299.5V302.5M888.4,299.5V302.5M942.7,299.5V302.5M997.0,299.5V302.5M1051.3,299.5V302.5M1105.6,299.5V302.5M1159.9,299.5V302.5" stroke="#4a4a5a" stroke-width="1" fill="none"/><rect x="74" y="365.5" width="1089" height="271.5" fill="url(#pg2)"/><path d="M74,587.4H1163M74,538.1H1163M74,488.8H1163M74,439.5H1163M74,390.2H1163M128.2,365.5V637M182.6,365.5V637M237.1,365.5V637M291.5,365.5V637M346.0,365.5V637M400.4,365.5V637M454.9,365.5V637M509.3,365.5V637M563.8,365.5V637M618.2,365.5V637M672.7,365.5V637M727.1,365.5V637M781.5,365.5V637M836.0,365.5V637M890.4,365.5V637M944.9,365.5V637M999.3,365.5V637M1053.8,365.5V637M1108.2,365.5V637" stroke="rgba(100,118,145,0.29)" stroke-width="1" fill="none"/><line x1="74" y1="581.7" x2="1163" y2="581.7" stroke="#1c1c1c" stroke-width="2.6"/><line x1="74" y1="364.3" x2="1163" y2="364.3" stroke="#f4d6da" stroke-width="1"/><line x1="74" y1="366.8" x2="1163" y2="366.8" stroke="#ecdcec" stroke-width="1"/><line x1="74" y1="365.5" x2="1163" y2="365.5" stroke="#9a5064" stroke-width="1.7"/><line x1="1163" y1="365.5" x2="1163" y2="637" stroke="#767678" stroke-width="1.6"/><line x1="74" y1="637" x2="1163.8" y2="637" stroke="#8a5e68" stroke-width="1.5"/><line x1="74" y1="365.5" x2="74" y2="637.8" stroke="#c8303c" stroke-width="2"/><path d="M74.0,626.2 L74.5,619.1 L75.0,607.3 L75.2,604.7 L76.0,614.4 L76.2,615.3 L76.5,614.6 L76.8,612.2 L77.0,608.2 L77.5,593.3 L78.5,526.6 L78.8,521.8 L79.0,532.9 L79.8,587.6 L80.0,599.0 L80.5,613.2 L81.0,621.0 L81.8,627.0 L82.2,629.3 L82.8,630.9 L83.5,632.4 L84.5,633.6 L85.5,634.4 L86.5,634.9 L89.2,635.6 L93.5,636.0 L99.2,636.1 L109.2,635.6 L154.8,632.4 L159.2,632.0 L170.0,630.6 L176.8,630.0 L179.8,629.5 L182.0,628.8 L183.8,627.9 L185.2,626.7 L186.2,625.3 L187.0,623.8 L187.8,621.6 L188.5,618.3 L189.0,615.1 L189.8,607.4 L190.5,593.0 L191.0,575.6 L191.5,546.1 L192.5,441.9 L192.8,427.9 L193.1,441.9 L194.0,538.0 L194.8,581.6 L195.2,596.5 L195.8,605.8 L196.5,614.0 L197.0,617.5 L197.5,619.9 L198.0,621.8 L198.8,623.7 L199.5,625.1 L200.2,626.0 L201.2,626.9 L202.2,627.5 L203.5,628.0 L205.0,628.4 L207.2,628.7 L214.2,629.4 L225.2,631.4 L231.5,631.8 L234.2,631.6 L236.2,631.0 L238.0,629.9 L239.5,628.4 L240.5,626.8 L241.5,624.2 L242.2,621.2 L242.8,618.3 L243.2,614.3 L243.8,608.5 L244.5,593.8 L245.0,576.2 L245.5,546.7 L246.6,422.6 L246.9,406.9 L247.2,422.5 L248.2,542.6 L248.8,573.7 L249.2,592.0 L250.0,607.3 L250.5,613.2 L251.0,617.3 L251.5,620.2 L252.2,623.2 L253.2,625.8 L254.2,627.3 L255.2,628.4 L256.5,629.3 L257.8,629.9 L259.5,630.4 L261.8,630.8 L264.2,631.1 L267.2,631.3 L269.8,631.2 L272.8,630.9 L276.0,630.3 L289.8,626.9 L303.8,623.9 L309.8,622.8 L316.2,622.1 L326.0,621.4 L332.2,621.2 L338.5,621.3 L349.5,621.8 L357.8,622.4 L360.0,622.7 L364.5,623.7 L375.2,626.8 L380.5,628.0 L393.8,630.3 L412.8,633.0 L417.5,633.4 L421.2,633.3 L423.0,633.0 L424.5,632.6 L425.8,632.2 L427.0,631.5 L428.8,630.1 L429.5,629.1 L430.2,627.9 L431.2,625.5 L432.2,621.6 L433.0,616.8 L433.5,612.0 L434.0,605.0 L434.5,594.3 L435.0,577.3 L435.5,548.7 L436.0,500.7 L436.7,407.6 L437.0,390.8 L437.3,407.5 L438.0,500.4 L438.5,548.3 L439.0,576.7 L439.5,593.6 L440.0,604.1 L440.5,610.9 L441.0,615.6 L441.8,620.1 L442.5,623.0 L443.5,625.3 L444.0,626.1 L444.8,626.9 L445.5,627.4 L446.2,627.7 L447.2,627.8 L448.0,627.7 L449.0,627.2 L449.8,626.6 L450.5,625.6 L451.0,624.7 L452.0,622.0 L452.8,618.6 L453.5,613.1 L454.0,607.3 L454.5,598.6 L455.2,575.1 L455.8,545.6 L456.9,410.9 L457.2,394.4 L457.5,411.0 L458.2,508.2 L458.8,553.2 L459.5,588.7 L460.2,605.7 L460.8,612.3 L461.5,618.6 L462.2,622.5 L463.2,625.7 L464.5,628.1 L465.2,629.1 L466.2,630.1 L468.2,631.3 L471.2,632.5 L473.0,633.0 L474.8,633.2 L476.8,633.3 L478.8,633.1 L482.0,632.7 L490.2,631.2 L503.2,629.5 L509.8,628.8 L515.0,628.6 L518.2,628.6 L522.0,628.9 L536.5,630.8 L545.0,631.6 L553.8,632.1 L559.8,632.1 L563.8,631.6 L565.2,631.2 L566.5,630.6 L567.5,630.0 L568.5,629.1 L569.2,628.2 L570.0,626.9 L570.8,625.1 L571.5,622.3 L572.0,619.6 L572.5,616.0 L573.2,607.2 L574.0,590.5 L574.5,570.2 L575.0,535.7 L576.0,424.5 L576.2,408.9 L576.5,424.5 L577.5,535.8 L578.0,570.3 L578.5,590.7 L579.2,607.4 L579.8,613.9 L580.2,618.3 L580.8,621.5 L581.5,624.7 L582.2,626.9 L583.2,628.8 L584.0,629.8 L585.0,630.8 L586.2,631.6 L587.5,632.2 L589.2,632.7 L591.0,633.1 L595.0,633.3 L598.0,633.2 L601.2,632.8 L616.2,630.6 L640.2,628.3 L650.8,627.0 L655.5,626.6 L660.8,626.6 L667.8,627.0 L678.2,628.0 L692.0,629.6 L698.8,630.2 L702.0,630.4 L705.5,630.2 L708.5,629.6 L711.0,628.7 L712.0,628.1 L713.0,627.2 L713.8,626.4 L714.5,625.3 L715.5,623.2 L716.2,620.9 L717.0,617.4 L717.8,611.8 L718.2,606.1 L719.0,591.8 L719.5,574.9 L720.0,546.6 L720.5,498.9 L721.2,406.6 L721.5,390.0 L721.8,406.6 L722.5,498.7 L723.0,546.3 L723.5,574.5 L724.0,591.3 L724.5,601.7 L725.0,608.6 L725.5,613.2 L726.2,617.8 L727.2,621.4 L728.2,623.6 L729.5,625.2 L730.2,625.8 L731.2,626.4 L733.2,627.1 L735.8,627.5 L738.5,627.5 L741.8,627.1 L749.0,625.8 L762.8,622.2 L774.8,619.8 L778.8,619.2 L782.5,618.8 L794.0,618.5 L798.2,618.2 L798.8,618.0 L799.5,617.3 L800.0,617.0 L800.5,617.0 L801.2,617.3 L804.2,619.1 L808.0,620.1 L819.2,622.5 L832.8,625.8 L836.5,626.5 L839.8,626.9 L845.2,627.3 L849.2,627.4 L852.8,627.2 L855.8,626.8 L858.2,626.1 L860.2,625.1 L861.8,623.9 L863.0,622.4 L864.0,620.3 L864.8,618.1 L865.5,614.7 L866.0,611.4 L866.5,606.8 L867.0,600.1 L867.8,582.7 L868.2,561.6 L868.8,525.7 L869.7,410.2 L870.0,394.0 L870.3,410.1 L871.0,499.6 L871.5,545.8 L872.0,573.2 L872.5,589.6 L873.2,603.4 L873.8,608.9 L874.5,614.2 L875.2,617.5 L876.2,620.2 L877.2,621.9 L878.8,623.4 L880.5,624.4 L882.5,625.0 L885.0,625.3 L888.2,625.4 L891.5,625.3 L895.2,624.9 L900.8,624.1 L905.5,623.2 L914.8,621.1 L925.5,618.1 L928.0,617.1 L934.0,614.2 L937.0,613.2 L938.5,612.9 L939.8,612.9 L943.5,613.5 L945.5,613.5 L948.2,613.1 L951.0,612.5 L953.5,611.6 L956.2,610.5 L957.0,609.8 L958.5,607.9 L959.2,607.5 L960.5,607.9 L963.0,609.4 L964.2,609.9 L966.2,609.8 L972.0,608.9 L976.0,609.0 L979.8,609.3 L984.2,609.9 L990.0,610.7 L994.0,611.5 L999.0,612.8 L1003.5,614.3 L1005.8,615.5 L1010.8,618.7 L1013.0,619.8 L1014.5,620.3 L1019.0,621.0 L1021.5,621.3 L1023.8,621.3 L1025.8,621.1 L1027.2,620.8 L1028.8,620.2 L1030.0,619.4 L1031.2,618.4 L1032.5,617.0 L1034.0,614.5 L1035.0,612.1 L1035.8,609.4 L1036.5,605.7 L1037.2,599.8 L1037.8,593.8 L1038.5,578.7 L1039.0,560.8 L1039.5,530.6 L1040.5,424.3 L1040.8,409.9 L1041.1,423.9 L1042.2,539.3 L1043.0,572.8 L1043.5,584.3 L1044.2,594.1 L1044.8,598.0 L1045.2,600.6 L1046.0,603.2 L1046.8,604.7 L1047.8,606.0 L1049.0,606.7 L1050.5,607.1 L1052.5,607.1 L1055.5,606.6 L1059.0,605.7 L1064.5,603.4 L1066.2,602.8 L1068.0,602.5 L1069.8,602.6 L1071.8,603.2 L1074.0,604.1 L1081.5,608.2 L1086.5,611.1 L1088.0,611.7 L1089.2,611.8 L1090.2,611.7 L1091.2,611.4 L1092.2,610.9 L1093.0,610.2 L1093.8,609.2 L1094.2,608.3 L1095.2,605.3 L1095.8,603.0 L1096.2,599.7 L1097.0,591.7 L1097.5,582.7 L1098.0,568.1 L1098.8,525.6 L1099.7,422.3 L1100.0,407.9 L1100.3,422.5 L1101.2,526.2 L1102.0,569.1 L1102.5,583.9 L1103.2,596.5 L1104.0,603.4 L1104.5,606.4 L1105.2,609.6 L1106.2,612.2 L1107.2,613.9 L1108.5,615.3 L1110.2,616.5 L1112.0,617.2 L1114.5,617.7 L1117.8,618.1 L1122.0,618.4 L1124.0,618.5 L1124.2,618.3 L1125.0,616.9 L1125.2,616.8 L1128.5,615.9 L1132.0,615.2 L1137.8,614.6 L1149.2,613.7 L1153.5,613.6 L1154.0,613.8 L1154.8,614.7 L1157.2,619.4 L1157.8,619.9 L1158.2,620.1 L1158.8,620.0 L1159.2,619.6 L1160.2,618.2 L1161.2,616.0 L1162.5,612.4" stroke="#b81a28" stroke-width="1.6" fill="none" stroke-linejoin="round" clip-path="url(#c2)"/><path d="M71,636.7H74M71,587.4H74M71,538.1H74M71,488.8H74M71,439.5H74M71,390.2H74M73.8,637V640M128.2,637V640M182.6,637V640M237.1,637V640M291.5,637V640M346.0,637V640M400.4,637V640M454.9,637V640M509.3,637V640M563.8,637V640M618.2,637V640M672.7,637V640M727.1,637V640M781.5,637V640M836.0,637V640M890.4,637V640M944.9,637V640M999.3,637V640M1053.8,637V640M1108.2,637V640M1162.7,637V640" stroke="#4a4a5a" stroke-width="1" fill="none"/><circle cx="192.8" cy="428" r="4" fill="#e00a0a" stroke="#b00000" stroke-width="0.8"/><circle cx="246.9" cy="407" r="4" fill="#e00a0a" stroke="#b00000" stroke-width="0.8"/><circle cx="437.0" cy="391.5" r="4" fill="#e00a0a" stroke="#b00000" stroke-width="0.8"/><circle cx="457.2" cy="395.2" r="4" fill="#e00a0a" stroke="#b00000" stroke-width="0.8"/><circle cx="576.25" cy="409" r="4" fill="#e00a0a" stroke="#b00000" stroke-width="0.8"/><circle cx="721.5" cy="390" r="4" fill="#e00a0a" stroke="#b00000" stroke-width="0.8"/><circle cx="870.0" cy="394" r="4" fill="#e00a0a" stroke="#b00000" stroke-width="0.8"/><circle cx="1040.8" cy="410" r="4" fill="#e00a0a" stroke="#b00000" stroke-width="0.8"/><circle cx="1100.0" cy="408" r="4" fill="#e00a0a" stroke="#b00000" stroke-width="0.8"/></svg><div class="a" style="left:1165px;top:58px;width:15px;height:282px;background:#f0f0f0"></div><div class="a" style="left:1165.5px;top:74px;width:13px;height:15px;background:#cdcdcd"></div><div class="a" style="left:1165px;top:344px;width:15px;height:334px;background:#f0f0f0"></div><div class="a" style="left:1167px;top:574px;width:11.5px;height:30px;background:#cdcdcd"></div><div class="a" style="left:42px;top:339.7px;width:1138px;height:4.6px;background:linear-gradient(#0c7e0c 0,#108a10 0.9px,#1fc01f 1.6px,#22c422 3.4px,#8ee08e 4.6px)"></div><div class="a" style="left:1180px;top:58px;width:6px;height:618px;background:linear-gradient(90deg,#000096 0,#0000b4 1.2px,#3a3aff 2.4px,#5c5cff 3.8px,#8080f4 5px,#b4b4e6 6px)"></div><div class="a" style="left:1259px;top:58px;width:5.6px;height:618px;background:linear-gradient(90deg,#b81c2c 0,#e42c3c 1px,#ff4450 2px,#fa4c58 3.4px,#d86a72 4.6px,#f0d4d4 5.6px)"></div><div class="a" style="left:1186px;top:58px;width:73px;height:618px;background:linear-gradient(90deg,#f1efed 0,#f1efed 68px,#f6e8e5 70px)"></div><div class="a" style="left:1186px;top:78px;width:71px;height:43px;background:#f7ede5;border-top:2px solid #8e8e8e;border-right:1px solid #d8d0ca"></div><div class="a" style="left:1188px;top:121.4px;width:67px;height:17px;background:linear-gradient(90deg,#efefef,#e4e4e4 35%,#e6e6e6);border-top:1px solid #a6a6a6;border-bottom:1px solid #c0c0c0;box-shadow:0 -1px 0 #fafafa"></div><div class="a" style="left:1188px;top:141.6px;width:67px;height:17px;background:linear-gradient(90deg,#efefef,#e4e4e4 35%,#e6e6e6);border-top:1px solid #a6a6a6;border-bottom:1px solid #c0c0c0;box-shadow:0 -1px 0 #fafafa"></div><div class="a" style="left:1188px;top:161.8px;width:67px;height:17px;background:linear-gradient(90deg,#efefef,#e4e4e4 35%,#e6e6e6);border-top:1px solid #a6a6a6;border-bottom:1px solid #c0c0c0;box-shadow:0 -1px 0 #fafafa"></div><div class="a" style="left:1188px;top:182.0px;width:67px;height:17px;background:linear-gradient(90deg,#efefef,#e4e4e4 35%,#e6e6e6);border-top:1px solid #a6a6a6;border-bottom:1px solid #c0c0c0;box-shadow:0 -1px 0 #fafafa"></div><div class="a" style="left:1188px;top:202.2px;width:67px;height:17px;background:linear-gradient(90deg,#efefef,#e4e4e4 35%,#e6e6e6);border-top:1px solid #a6a6a6;border-bottom:1px solid #c0c0c0;box-shadow:0 -1px 0 #fafafa"></div><div class="a" style="left:1188px;top:222.4px;width:67px;height:17px;background:linear-gradient(90deg,#efefef,#e4e4e4 35%,#e6e6e6);border-top:1px solid #a6a6a6;border-bottom:1px solid #c0c0c0;box-shadow:0 -1px 0 #fafafa"></div><div class="a" style="left:1188px;top:242.6px;width:67px;height:17px;background:linear-gradient(90deg,#efefef,#e4e4e4 35%,#e6e6e6);border-top:1px solid #a6a6a6;border-bottom:1px solid #c0c0c0;box-shadow:0 -1px 0 #fafafa"></div><div class="a" style="left:1188px;top:262.8px;width:67px;height:17px;background:linear-gradient(90deg,#efefef,#e4e4e4 35%,#e6e6e6);border-top:1px solid #a6a6a6;border-bottom:1px solid #c0c0c0;box-shadow:0 -1px 0 #fafafa"></div><div class="a" style="left:1188px;top:283.0px;width:67px;height:17px;background:linear-gradient(90deg,#efefef,#e4e4e4 35%,#e6e6e6);border-top:1px solid #a6a6a6;border-bottom:1px solid #c0c0c0;box-shadow:0 -1px 0 #fafafa"></div><div class="a" style="left:1188px;top:303.2px;width:67px;height:17px;background:linear-gradient(90deg,#efefef,#e4e4e4 35%,#e6e6e6);border-top:1px solid #a6a6a6;border-bottom:1px solid #c0c0c0;box-shadow:0 -1px 0 #fafafa"></div><div class="a" style="left:1188px;top:323.4px;width:67px;height:17px;background:linear-gradient(90deg,#efefef,#e4e4e4 35%,#e6e6e6);border-top:1px solid #a6a6a6;border-bottom:1px solid #c0c0c0;box-shadow:0 -1px 0 #fafafa"></div><div class="a" style="left:1188px;top:343.6px;width:67px;height:17px;background:linear-gradient(90deg,#efefef,#e4e4e4 35%,#e6e6e6);border-top:1px solid #a6a6a6;border-bottom:1px solid #c0c0c0;box-shadow:0 -1px 0 #fafafa"></div><div class="a" style="left:1188px;top:363.8px;width:67px;height:17px;background:linear-gradient(90deg,#efefef,#e4e4e4 35%,#e6e6e6);border-top:1px solid #a6a6a6;border-bottom:1px solid #c0c0c0;box-shadow:0 -1px 0 #fafafa"></div><div class="a" style="left:1188px;top:384.0px;width:67px;height:17px;background:linear-gradient(90deg,#efefef,#e4e4e4 35%,#e6e6e6);border-top:1px solid #a6a6a6;border-bottom:1px solid #c0c0c0;box-shadow:0 -1px 0 #fafafa"></div><div class="a" style="left:1188px;top:404.2px;width:67px;height:17px;background:linear-gradient(90deg,#efefef,#e4e4e4 35%,#e6e6e6);border-top:1px solid #a6a6a6;border-bottom:1px solid #c0c0c0;box-shadow:0 -1px 0 #fafafa"></div><div class="a" style="left:1188px;top:424.4px;width:67px;height:17px;background:linear-gradient(90deg,#efefef,#e4e4e4 35%,#e6e6e6);border-top:1px solid #a6a6a6;border-bottom:1px solid #c0c0c0;box-shadow:0 -1px 0 #fafafa"></div><div class="a" style="left:1188px;top:444.6px;width:67px;height:17px;background:linear-gradient(90deg,#efefef,#e4e4e4 35%,#e6e6e6);border-top:1px solid #a6a6a6;border-bottom:1px solid #c0c0c0;box-shadow:0 -1px 0 #fafafa"></div><div class="a" style="left:1188px;top:464.8px;width:67px;height:17px;background:linear-gradient(90deg,#efefef,#e4e4e4 35%,#e6e6e6);border-top:1px solid #a6a6a6;border-bottom:1px solid #c0c0c0;box-shadow:0 -1px 0 #fafafa"></div><div class="a" style="left:1188px;top:485.0px;width:67px;height:17px;background:linear-gradient(90deg,#efefef,#e4e4e4 35%,#e6e6e6);border-top:1px solid #a6a6a6;border-bottom:1px solid #c0c0c0;box-shadow:0 -1px 0 #fafafa"></div><div class="a" style="left:1188px;top:505.2px;width:67px;height:17px;background:linear-gradient(90deg,#efefef,#e4e4e4 35%,#e6e6e6);border-top:1px solid #a6a6a6;border-bottom:1px solid #c0c0c0;box-shadow:0 -1px 0 #fafafa"></div><div class="a" style="left:1188px;top:525.4px;width:67px;height:17px;background:linear-gradient(90deg,#efefef,#e4e4e4 35%,#e6e6e6);border-top:1px solid #a6a6a6;border-bottom:1px solid #c0c0c0;box-shadow:0 -1px 0 #fafafa"></div><div class="a" style="left:1188px;top:545.6px;width:67px;height:17px;background:linear-gradient(90deg,#efefef,#e4e4e4 35%,#e6e6e6);border-top:1px solid #a6a6a6;border-bottom:1px solid #c0c0c0;box-shadow:0 -1px 0 #fafafa"></div><div class="a" style="left:1188px;top:565.8px;width:67px;height:17px;background:linear-gradient(90deg,#efefef,#e4e4e4 35%,#e6e6e6);border-top:1px solid #a6a6a6;border-bottom:1px solid #c0c0c0;box-shadow:0 -1px 0 #fafafa"></div><div class="a" style="left:1188px;top:586.0px;width:67px;height:17px;background:linear-gradient(90deg,#efefef,#e4e4e4 35%,#e6e6e6);border-top:1px solid #a6a6a6;border-bottom:1px solid #c0c0c0;box-shadow:0 -1px 0 #fafafa"></div><div class="a" style="left:1188px;top:606.2px;width:67px;height:17px;background:linear-gradient(90deg,#efefef,#e4e4e4 35%,#e6e6e6);border-top:1px solid #a6a6a6;border-bottom:1px solid #c0c0c0;box-shadow:0 -1px 0 #fafafa"></div><div class="a" style="left:1191.8px;top:623px;width:65.5px;height:15.4px;background:#f0f0f0"></div><div class="a" style="left:1207.7px;top:624px;width:15.4px;height:13.6px;background:#cdcdcd"></div><div class="a" style="left:1186px;top:640px;width:73px;height:1px;background:#7c7c7c"></div><div class="a" style="left:1186px;top:641px;width:73px;height:19px;background:#f0f0f0"></div><div class="a" style="left:1189.2px;top:645.5px;width:11.8px;height:11px;background:#fff;border:1px solid #333"></div><svg class="a" style="left:1189px;top:645px" width="13" height="12"><path d="M2.5,6 L5,8.8 L10.5,2.8" stroke="#333" stroke-width="1.3" fill="none"/></svg><div class="a" style="left:1255.3px;top:645.5px;width:4px;height:11px;background:#fff;border:1px solid #333;border-right:none"></div><div class="a" style="left:1186px;top:660px;width:73px;height:16px;background:#f0f0f0"></div><div class="a" style="left:1201.3px;top:661px;width:16px;height:13.6px;background:#cdcdcd"></div><div class="a" style="left:1186px;top:676px;width:73px;height:1px;background:#6c6c6c"></div><div class="a" style="left:1264px;top:58px;width:369px;height:620px;background:#f2f2f2"></div><div class="a" style="left:1264px;top:58px;width:2.5px;height:620px;background:#faf5f5"></div><div class="a" style="left:1266px;top:59px;width:367px;height:21px;background:#f0f0f0;border-top:1px solid #fafafa"></div><div class="a" style="left:1352px;top:61px;width:107px;height:20px;background:#eeeeee;border:1px solid #e2e2e2;border-bottom:none"></div><div class="a" style="left:1459px;top:61px;width:114px;height:20px;background:#eeeeee;border:1px solid #e2e2e2;border-bottom:none;border-left:none"></div><div class="a" style="left:1266px;top:59px;width:86px;height:22px;background:#fff;border:1px solid #d6d6d6;border-bottom:none"></div><div class="a" style="left:1266px;top:80px;width:363px;height:187px;background:#f0f0f0;border:1px solid #e2e2e2;border-bottom:1.5px solid #fbfbfb;border-right:1px solid #f6f6f6"></div><div class="a" style="left:1288px;top:99px;width:279px;height:65px;border:1px solid #dcdcdc;border-radius:2px"></div><div class="a" style="left:1294px;top:93px;width:44px;height:12px;background:#f0f0f0"></div><div class="a" style="left:1301px;top:119.4px;width:252px;height:20.3px;background:linear-gradient(#ececec,#e2e2e2);border:1px solid #adadad"></div><div class="a" style="left:1288px;top:202px;width:41.4px;height:20.5px;background:#fff;border:1px solid #7a7a7a"></div><div class="a" style="left:1418px;top:200px;width:147.5px;height:24.4px;background:#e1e1e1;border:1px solid #adadad"></div><div class="a" style="left:1289px;top:231px;width:12.4px;height:12px;background:#fff;border:1px solid #333"></div><svg class="a" style="left:1289px;top:231px" width="13" height="12"><path d="M2.5,6 L5,8.8 L10.5,2.8" stroke="#333" stroke-width="1.3" fill="none"/></svg><div class="a" style="left:1264px;top:269.8px;width:366px;height:4.6px;background:linear-gradient(#0c7e0c 0,#108a10 0.9px,#1fc01f 1.6px,#22c422 3.4px,#8ee08e 4.6px)"></div><div class="a" style="left:1264px;top:274px;width:366px;height:21px;background:#f0f0f0"></div><div class="a" style="left:1266px;top:294.6px;width:363px;height:41.4px;background:#f7ece5;border-top:2px solid #9c9c9c"></div><div class="a" style="left:1310px;top:296.6px;width:1px;height:39.4px;background:#c9c3be"></div><div class="a" style="left:1377.3px;top:296.6px;width:1px;height:39.4px;background:#c9c3be"></div><div class="a" style="left:1438.4px;top:296.6px;width:1px;height:39.4px;background:#c9c3be"></div><div class="a" style="left:1500.4px;top:296.6px;width:1px;height:39.4px;background:#c9c3be"></div><div class="a" style="left:1554.4px;top:296.6px;width:1px;height:39.4px;background:#c9c3be"></div><div class="a" style="left:1616.6px;top:296.6px;width:1px;height:39.4px;background:#c9c3be"></div><div class="a" style="left:1266.5px;top:336px;width:362.5px;height:323.5px;background:#cbdde6"></div><div class="a" style="left:1267px;top:660px;width:362px;height:15px;background:#f0f0f0;border-left:1px solid #e4e4e4"></div><div class="a" style="left:1286.8px;top:661px;width:260.5px;height:13px;background:#cdcdcd"></div><svg class="a" style="left:0;top:0" width="1680" height="720"><path d="M1168.5,68.7 L1172.3,64.89999999999999 L1176.1,68.7" stroke="#555" stroke-width="1.7" fill="none"/><path d="M1168.5,329.6 L1172.3,333.4 L1176.1,329.6" stroke="#555" stroke-width="1.7" fill="none"/><path d="M1169.0,354.4 L1172.8,350.6 L1176.6,354.4" stroke="#555" stroke-width="1.7" fill="none"/><path d="M1169.0,666.6 L1172.8,670.4 L1176.6,666.6" stroke="#555" stroke-width="1.7" fill="none"/><path d="M1201.3,627.1999999999999 L1197.7,630.8 L1201.3,634.4" stroke="#555" stroke-width="1.6" fill="none"/><path d="M1247.9,627.1999999999999 L1251.5,630.8 L1247.9,634.4" stroke="#555" stroke-width="1.6" fill="none"/><path d="M1194.8,664.4 L1191.2,668 L1194.8,671.6" stroke="#555" stroke-width="1.6" fill="none"/><path d="M1249.0,664.4 L1252.6,668 L1249.0,671.6" stroke="#555" stroke-width="1.6" fill="none"/><path d="M1280.3999999999999,663.9 L1276.8,667.5 L1280.3999999999999,671.1" stroke="#555" stroke-width="1.6" fill="none"/><path d="M1619.2,663.9 L1622.8,667.5 L1619.2,671.1" stroke="#555" stroke-width="1.6" fill="none"/><path d="M1541.0,128.05 L1544.5,131.55 L1548.0,128.05" stroke="#555" stroke-width="1.3" fill="none"/></svg><svg class="a" style="left:0;top:0" width="1680" height="720" font-family="Liberation Sans, DejaVu Sans, sans-serif"><text x="62.40" y="50.00" font-size="11.2" fill="#1a2638" stroke="#1a2638" stroke-width="0.22" textLength="179.00" lengthAdjust="spacing">*BLK: Vibrant I-Beam FRFs - 222 FRFs</text><text x="75.60" y="75.75" font-size="11" fill="#28287a" stroke="#28287a" stroke-width="0.22" textLength="99.98" lengthAdjust="spacing">Log Magnitude g/lbf</text><text x="944.20" y="75.75" font-size="11" fill="#28287a" stroke="#28287a" stroke-width="0.22" textLength="163.30" lengthAdjust="spacing">H1_2SV~2.BLK (-1X:23Z) M#1 FRF</text><text x="1119.70" y="75.75" font-size="11" fill="#28287a" stroke="#28287a" stroke-width="0.22" textLength="36.60" lengthAdjust="spacing">FRAC: 0</text><text x="610.78" y="329.80" font-size="11" fill="#28287a" stroke="#28287a" stroke-width="0.22">Hz</text><text x="75.80" y="361.60" font-size="11" fill="#28287a" stroke="#28287a" stroke-width="0.22" textLength="52.70" lengthAdjust="spacing">Magnitude</text><text x="1026.90" y="361.60" font-size="11" fill="#28287a" stroke="#28287a" stroke-width="0.22" textLength="131.49" lengthAdjust="spacing">MMIF Using Imaginary Part</text><text x="610.98" y="666.90" font-size="11" fill="#28287a" stroke="#28287a" stroke-width="0.22">Hz</text><text x="1194.80" y="73.00" font-size="15" fill="#111" font-weight="bold" textLength="29.20" lengthAdjust="spacing">M#s</text><text x="1208.10" y="96.90" font-size="11" fill="#222" stroke="#222" stroke-width="0.22" textLength="27.80" lengthAdjust="spacing">Select</text><text x="1214.00" y="110.70" font-size="11" fill="#222" stroke="#222" stroke-width="0.22" textLength="15.40" lengthAdjust="spacing">M#</text><text x="1217.70" y="133.70" font-size="11" fill="#1e1e1e" stroke="#1e1e1e" stroke-width="0.22">M#1</text><text x="1217.70" y="153.90" font-size="11" fill="#1e1e1e" stroke="#1e1e1e" stroke-width="0.22">M#2</text><text x="1217.70" y="174.10" font-size="11" fill="#1e1e1e" stroke="#1e1e1e" stroke-width="0.22">M#3</text><text x="1217.70" y="194.30" font-size="11" fill="#1e1e1e" stroke="#1e1e1e" stroke-width="0.22">M#4</text><text x="1217.70" y="214.50" font-size="11" fill="#1e1e1e" stroke="#1e1e1e" stroke-width="0.22">M#5</text><text x="1217.70" y="234.70" font-size="11" fill="#1e1e1e" stroke="#1e1e1e" stroke-width="0.22">M#6</text><text x="1217.70" y="254.90" font-size="11" fill="#1e1e1e" stroke="#1e1e1e" stroke-width="0.22">M#7</text><text x="1217.70" y="275.10" font-size="11" fill="#1e1e1e" stroke="#1e1e1e" stroke-width="0.22">M#8</text><text x="1217.70" y="295.30" font-size="11" fill="#1e1e1e" stroke="#1e1e1e" stroke-width="0.22">M#9</text><text x="1214.64" y="315.50" font-size="11" fill="#1e1e1e" stroke="#1e1e1e" stroke-width="0.22">M#10</text><text x="1215.05" y="335.70" font-size="11" fill="#1e1e1e" stroke="#1e1e1e" stroke-width="0.22">M#11</text><text x="1214.64" y="355.90" font-size="11" fill="#1e1e1e" stroke="#1e1e1e" stroke-width="0.22">M#12</text><text x="1214.64" y="376.10" font-size="11" fill="#1e1e1e" stroke="#1e1e1e" stroke-width="0.22">M#13</text><text x="1214.64" y="396.30" font-size="11" fill="#1e1e1e" stroke="#1e1e1e" stroke-width="0.22">M#14</text><text x="1214.64" y="416.50" font-size="11" fill="#1e1e1e" stroke="#1e1e1e" stroke-width="0.22">M#15</text><text x="1214.64" y="436.70" font-size="11" fill="#1e1e1e" stroke="#1e1e1e" stroke-width="0.22">M#16</text><text x="1214.64" y="456.90" font-size="11" fill="#1e1e1e" stroke="#1e1e1e" stroke-width="0.22">M#17</text><text x="1214.64" y="477.10" font-size="11" fill="#1e1e1e" stroke="#1e1e1e" stroke-width="0.22">M#18</text><text x="1214.64" y="497.30" font-size="11" fill="#1e1e1e" stroke="#1e1e1e" stroke-width="0.22">M#19</text><text x="1214.64" y="517.50" font-size="11" fill="#1e1e1e" stroke="#1e1e1e" stroke-width="0.22">M#20</text><text x="1214.64" y="537.70" font-size="11" fill="#1e1e1e" stroke="#1e1e1e" stroke-width="0.22">M#21</text><text x="1214.64" y="557.90" font-size="11" fill="#1e1e1e" stroke="#1e1e1e" stroke-width="0.22">M#22</text><text x="1214.64" y="578.10" font-size="11" fill="#1e1e1e" stroke="#1e1e1e" stroke-width="0.22">M#23</text><text x="1214.64" y="598.30" font-size="11" fill="#1e1e1e" stroke="#1e1e1e" stroke-width="0.22">M#24</text><text x="1214.64" y="618.50" font-size="11" fill="#1e1e1e" stroke="#1e1e1e" stroke-width="0.22">M#25</text><text x="1206.90" y="654.90" font-size="11" fill="#1e1e1e" stroke="#1e1e1e" stroke-width="0.22" textLength="41.31" lengthAdjust="spacing">Show All</text><text x="1271.50" y="72.10" font-size="11" fill="#1a1a1a" stroke="#1a1a1a" stroke-width="0.22" textLength="73.80" lengthAdjust="spacing">Mode Indicator</text><text x="1356.60" y="73.90" font-size="11" fill="#1a1a1a" stroke="#1a1a1a" stroke-width="0.22" textLength="97.70" lengthAdjust="spacing">Frequency Damping</text><text x="1466.00" y="73.90" font-size="11" fill="#1a1a1a" stroke="#1a1a1a" stroke-width="0.22" textLength="103.40" lengthAdjust="spacing">Residues Save Shapes</text><text x="1297.10" y="102.40" font-size="11" fill="#1a1a1a" stroke="#1a1a1a" stroke-width="0.22" textLength="37.81" lengthAdjust="spacing">Method</text><text x="1305.30" y="133.90" font-size="11" fill="#1a1a1a" stroke="#1a1a1a" stroke-width="0.22" textLength="28.20" lengthAdjust="spacing">MMIF</text><text x="1306.20" y="216.20" font-size="11" fill="#1a2a4a" stroke="#1a2a4a" stroke-width="0.22" textLength="5.30" lengthAdjust="spacing">9</text><text x="1340.70" y="217.00" font-size="11" fill="#1a1a1a" stroke="#1a1a1a" stroke-width="0.22" textLength="26.80" lengthAdjust="spacing">Peaks</text><text x="1461.80" y="217.00" font-size="11" fill="#1a1a1a" stroke="#1a1a1a" stroke-width="0.22" textLength="59.90" lengthAdjust="spacing">Count Peaks</text><text x="1307.20" y="240.70" font-size="11" fill="#1a1a1a" stroke="#1a1a1a" stroke-width="0.22" textLength="60.30" lengthAdjust="spacing">Count Peaks</text><text x="1273.60" y="289.30" font-size="15" fill="#111" font-weight="bold" textLength="132.40" lengthAdjust="spacing">Modal Parameters</text><text x="1274.20" y="313.00" font-size="11" fill="#1e1e1e" stroke="#1e1e1e" stroke-width="0.22" textLength="28.80" lengthAdjust="spacing">Select</text><text x="1274.20" y="326.70" font-size="11" fill="#1e1e1e" stroke="#1e1e1e" stroke-width="0.22" textLength="28.81" lengthAdjust="spacing">Mode</text><text x="1318.80" y="313.00" font-size="11" fill="#1e1e1e" stroke="#1e1e1e" stroke-width="0.22" textLength="50.40" lengthAdjust="spacing">Frequency</text><text x="1336.98" y="326.70" font-size="11" fill="#1e1e1e" stroke="#1e1e1e" stroke-width="0.22">Hz</text><text x="1386.20" y="313.00" font-size="11" fill="#1e1e1e" stroke="#1e1e1e" stroke-width="0.22" textLength="44.50" lengthAdjust="spacing">Damping</text><text x="1401.68" y="326.70" font-size="11" fill="#1e1e1e" stroke="#1e1e1e" stroke-width="0.22">Hz</text><text x="1447.70" y="313.00" font-size="11" fill="#1e1e1e" stroke="#1e1e1e" stroke-width="0.22" textLength="44.50" lengthAdjust="spacing">Damping</text><text x="1461.15" y="326.70" font-size="11" fill="#1e1e1e" stroke="#1e1e1e" stroke-width="0.22">(%)</text><text x="1509.60" y="313.00" font-size="11" fill="#1e1e1e" stroke="#1e1e1e" stroke-width="0.22" textLength="37.20" lengthAdjust="spacing">Residue</text><text x="1517.00" y="326.70" font-size="11" fill="#1e1e1e" stroke="#1e1e1e" stroke-width="0.22">Mag</text><text x="1567.20" y="313.00" font-size="11" fill="#1e1e1e" stroke="#1e1e1e" stroke-width="0.22" textLength="37.60" lengthAdjust="spacing">Residue</text><text x="1563.30" y="326.70" font-size="11" fill="#1e1e1e" stroke="#1e1e1e" stroke-width="0.22" textLength="45.71" lengthAdjust="spacing">Phs (deg)</text><text x="51.65" y="107.40" font-size="11" fill="#28287a" stroke="#28287a" stroke-width="0.22">100</text><text x="57.77" y="162.40" font-size="11" fill="#28287a" stroke="#28287a" stroke-width="0.22">10</text><text x="63.88" y="217.40" font-size="11" fill="#28287a" stroke="#28287a" stroke-width="0.22">1</text><text x="54.71" y="272.40" font-size="11" fill="#28287a" stroke="#28287a" stroke-width="0.22">0.1</text><text x="73.70" y="314.90" font-size="11" fill="#28287a" stroke="#28287a" stroke-width="0.22">0</text><text x="119.12" y="314.90" font-size="11" fill="#28287a" stroke="#28287a" stroke-width="0.22">200</text><text x="173.41" y="314.90" font-size="11" fill="#28287a" stroke="#28287a" stroke-width="0.22">400</text><text x="227.71" y="314.90" font-size="11" fill="#28287a" stroke="#28287a" stroke-width="0.22">600</text><text x="282.00" y="314.90" font-size="11" fill="#28287a" stroke="#28287a" stroke-width="0.22">800</text><text x="333.23" y="314.90" font-size="11" fill="#28287a" stroke="#28287a" stroke-width="0.22">1000</text><text x="387.53" y="314.90" font-size="11" fill="#28287a" stroke="#28287a" stroke-width="0.22">1200</text><text x="441.82" y="314.90" font-size="11" fill="#28287a" stroke="#28287a" stroke-width="0.22">1400</text><text x="496.11" y="314.90" font-size="11" fill="#28287a" stroke="#28287a" stroke-width="0.22">1600</text><text x="550.41" y="314.90" font-size="11" fill="#28287a" stroke="#28287a" stroke-width="0.22">1800</text><text x="604.70" y="314.90" font-size="11" fill="#28287a" stroke="#28287a" stroke-width="0.22">2000</text><text x="659.00" y="314.90" font-size="11" fill="#28287a" stroke="#28287a" stroke-width="0.22">2200</text><text x="713.29" y="314.90" font-size="11" fill="#28287a" stroke="#28287a" stroke-width="0.22">2400</text><text x="767.58" y="314.90" font-size="11" fill="#28287a" stroke="#28287a" stroke-width="0.22">2600</text><text x="821.88" y="314.90" font-size="11" fill="#28287a" stroke="#28287a" stroke-width="0.22">2800</text><text x="876.17" y="314.90" font-size="11" fill="#28287a" stroke="#28287a" stroke-width="0.22">3000</text><text x="930.47" y="314.90" font-size="11" fill="#28287a" stroke="#28287a" stroke-width="0.22">3200</text><text x="984.76" y="314.90" font-size="11" fill="#28287a" stroke="#28287a" stroke-width="0.22">3400</text><text x="1039.05" y="314.90" font-size="11" fill="#28287a" stroke="#28287a" stroke-width="0.22">3600</text><text x="1093.35" y="314.90" font-size="11" fill="#28287a" stroke="#28287a" stroke-width="0.22">3800</text><text x="1135.83" y="314.90" font-size="11" fill="#28287a" stroke="#28287a" stroke-width="0.22">4000</text><text x="63.88" y="394.10" font-size="11" fill="#28287a" stroke="#28287a" stroke-width="0.22">1</text><text x="54.71" y="443.40" font-size="11" fill="#28287a" stroke="#28287a" stroke-width="0.22">0.8</text><text x="54.71" y="492.70" font-size="11" fill="#28287a" stroke="#28287a" stroke-width="0.22">0.6</text><text x="54.71" y="542.00" font-size="11" fill="#28287a" stroke="#28287a" stroke-width="0.22">0.4</text><text x="54.71" y="591.30" font-size="11" fill="#28287a" stroke="#28287a" stroke-width="0.22">0.2</text><text x="63.88" y="637.80" font-size="11" fill="#28287a" stroke="#28287a" stroke-width="0.22">0</text><text x="73.70" y="652.10" font-size="11" fill="#28287a" stroke="#28287a" stroke-width="0.22">0</text><text x="119.02" y="652.10" font-size="11" fill="#28287a" stroke="#28287a" stroke-width="0.22">200</text><text x="173.47" y="652.10" font-size="11" fill="#28287a" stroke="#28287a" stroke-width="0.22">400</text><text x="227.91" y="652.10" font-size="11" fill="#28287a" stroke="#28287a" stroke-width="0.22">600</text><text x="282.36" y="652.10" font-size="11" fill="#28287a" stroke="#28287a" stroke-width="0.22">800</text><text x="333.74" y="652.10" font-size="11" fill="#28287a" stroke="#28287a" stroke-width="0.22">1000</text><text x="388.19" y="652.10" font-size="11" fill="#28287a" stroke="#28287a" stroke-width="0.22">1200</text><text x="442.63" y="652.10" font-size="11" fill="#28287a" stroke="#28287a" stroke-width="0.22">1400</text><text x="497.08" y="652.10" font-size="11" fill="#28287a" stroke="#28287a" stroke-width="0.22">1600</text><text x="551.53" y="652.10" font-size="11" fill="#28287a" stroke="#28287a" stroke-width="0.22">1800</text><text x="605.97" y="652.10" font-size="11" fill="#28287a" stroke="#28287a" stroke-width="0.22">2000</text><text x="660.42" y="652.10" font-size="11" fill="#28287a" stroke="#28287a" stroke-width="0.22">2200</text><text x="714.86" y="652.10" font-size="11" fill="#28287a" stroke="#28287a" stroke-width="0.22">2400</text><text x="769.31" y="652.10" font-size="11" fill="#28287a" stroke="#28287a" stroke-width="0.22">2600</text><text x="823.76" y="652.10" font-size="11" fill="#28287a" stroke="#28287a" stroke-width="0.22">2800</text><text x="878.20" y="652.10" font-size="11" fill="#28287a" stroke="#28287a" stroke-width="0.22">3000</text><text x="932.65" y="652.10" font-size="11" fill="#28287a" stroke="#28287a" stroke-width="0.22">3200</text><text x="987.09" y="652.10" font-size="11" fill="#28287a" stroke="#28287a" stroke-width="0.22">3400</text><text x="1041.54" y="652.10" font-size="11" fill="#28287a" stroke="#28287a" stroke-width="0.22">3600</text><text x="1095.99" y="652.10" font-size="11" fill="#28287a" stroke="#28287a" stroke-width="0.22">3800</text><text x="1137.83" y="652.10" font-size="11" fill="#28287a" stroke="#28287a" stroke-width="0.22">4000</text><text x="199.30" y="427.50" font-size="11" fill="#1a1a2a" stroke="#1a1a2a" stroke-width="0.22">1</text><text x="253.40" y="406.50" font-size="11" fill="#1a1a2a" stroke="#1a1a2a" stroke-width="0.22">2</text><text x="443.50" y="391.00" font-size="11" fill="#1a1a2a" stroke="#1a1a2a" stroke-width="0.22">3</text><text x="463.70" y="394.70" font-size="11" fill="#1a1a2a" stroke="#1a1a2a" stroke-width="0.22">4</text><text x="582.75" y="408.50" font-size="11" fill="#1a1a2a" stroke="#1a1a2a" stroke-width="0.22">5</text><text x="728.00" y="389.50" font-size="11" fill="#1a1a2a" stroke="#1a1a2a" stroke-width="0.22">6</text><text x="876.50" y="393.50" font-size="11" fill="#1a1a2a" stroke="#1a1a2a" stroke-width="0.22">7</text><text x="1047.30" y="409.50" font-size="11" fill="#1a1a2a" stroke="#1a1a2a" stroke-width="0.22">8</text><text x="1106.50" y="407.50" font-size="11" fill="#1a1a2a" stroke="#1a1a2a" stroke-width="0.22">9</text></svg><svg class="a" style="left:1620px;top:300px" width="9" height="30" font-family="Liberation Sans, DejaVu Sans, sans-serif"><text x="5.1" y="26.6" font-size="11" fill="#1e1e1e">F</text></svg></body></html>
